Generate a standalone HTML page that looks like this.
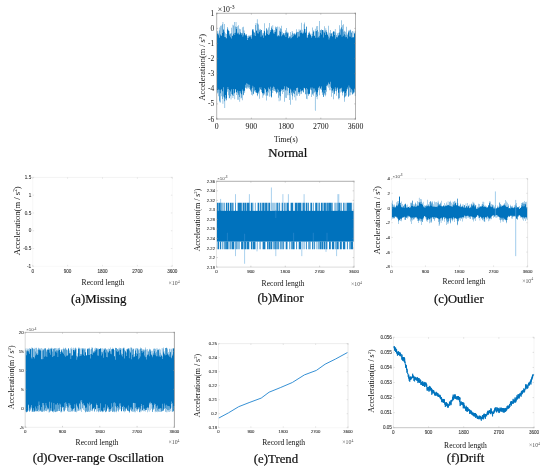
<!DOCTYPE html>
<html><head><meta charset="utf-8"><title>Figure</title>
<style>html,body{margin:0;padding:0;background:#fff}svg{display:block}text{white-space:pre}</style></head>
<body><svg width="550" height="470" viewBox="0 0 550 470">
<rect width="550" height="470" fill="#fff"/>
<path d="M217 34.04V34.04H217.38V30.97H217.77V32.84H218.15V35.33H218.54V33.69H218.92V30.48H219.31V37.81H219.69V27.48H220.07V25.75H220.46V34.42H220.84V35.69H221.23V35.81H221.61V25.59H221.99V24.32H222.38V33.02H222.76V21.91H223.15V29.15H223.53V29.79H223.91V31.78H224.3V24.12H224.68V36.93H225.07V37.08H225.45V33.19H225.84V38.3H226.22V38.18H226.6V34.01H226.99V29.44H227.37V27.08H227.76V28.46H228.14V30.03H228.53V31.04H228.91V31.02H229.29V35.52H229.68V33.63H230.06V33.78H230.45V37.18H230.83V33.03H231.21V38.57H231.6V27.68H231.98V35.44H232.37V36.09H232.75V24.8H233.13V34.37H233.52V25.53H233.9V32.92H234.29V22.09H234.67V34.93H235.06V26.4H235.44V32.63H235.82V22.07H236.21V28.95H236.59V27.03H236.98V26.17H237.36V32.76H237.75V33.92H238.13V32.83H238.51V25.29H238.9V34.85H239.28V28.67H239.67V34.27H240.05V32.34H240.43V29.3H240.82V33.26H241.2V33.1H241.59V34.73H241.97V27.31H242.36V33.37H242.74V36.66H243.12V26.7H243.51V35.36H243.89V30.53H244.28V33.3H244.66V32.89H245.04V35.02H245.43V34.35H245.81V36.05H246.2V34.75H246.58V33.88H246.97V36.26H247.35V39.98H247.73V38.1H248.12V35.85H248.5V37.75H248.89V35.36H249.27V36.15H249.65V36.64H250.04V34.89H250.42V36.3H250.81V37.25H251.19V34.79H251.57V38.68H251.96V30.32H252.34V29.08H252.73V29.5H253.11V31.42H253.5V29.19H253.88V35.58H254.26V32.93H254.65V31.92H255.03V35.95H255.42V24.9H255.8V23.06H256.19V30.37H256.57V30.88H256.95V19.21H257.34V33.31H257.72V23.39H258.11V24.59H258.49V33.45H258.87V28.86H259.26V31.75H259.64V29.96H260.03V30.62H260.41V28.96H260.8V36.86H261.18V30.11H261.56V29.98H261.95V35.84H262.33V34.87H262.72V32.66H263.1V37.78H263.48V33.14H263.87V30.81H264.25V23.37H264.64V31.16H265.02V35.07H265.41V35.98H265.79V32.8H266.17V28.24H266.56V28.48H266.94V30.53H267.33V33.96H267.71V29.62H268.09V35.05H268.48V27.51H268.86V34.86H269.25V23.12H269.63V33.41H270.01V31.92H270.4V29.94H270.78V30.32H271.17V26.16H271.55V27.77H271.94V29.13H272.32V29.41H272.7V25.3H273.09V30.3H273.47V32.71H273.86V33.94H274.24V30.06H274.62V32.24H275.01V26.48H275.39V31.85H275.78V27.86H276.16V27.04H276.55V29.05H276.93V35.64H277.31V26.6H277.7V36.52H278.08V34.88H278.47V35.79H278.85V26.83H279.24V30.82H279.62V36.23H280V27.95H280.39V31.85H280.77V29.03H281.16V25.8H281.54V36.17H281.92V31.82H282.31V35.18H282.69V34.29H283.08V33.31H283.46V33.06H283.85V34.87H284.23V35.57H284.61V33.21H285V32.79H285.38V30.13H285.77V36.98H286.15V28.02H286.53V32.35H286.92V32.72H287.3V33.54H287.69V31.63H288.07V38.26H288.46V32.78H288.84V37.98H289.22V35.96H289.61V37.01H289.99V36.42H290.38V32.06H290.76V38.58H291.14V34.85H291.53V37.66H291.91V30.99H292.3V32.65H292.68V37.08H293.06V33.88H293.45V35.67H293.83V32.95H294.22V34.6H294.6V33.61H294.99V35.13H295.37V34.17H295.75V33.51H296.14V32.58H296.52V29.29H296.91V31.9H297.29V37.67H297.68V31.7H298.06V36.6H298.44V32.03H298.83V29.19H299.21V30.79H299.6V36.55H299.98V29.69H300.36V30.47H300.75V33.02H301.13V32.41H301.52V22.72H301.9V29.69H302.29V33.75H302.67V32.68H303.05V33.37H303.44V31.43H303.82V24.37H304.21V22.53H304.59V28.9H304.97V29H305.36V32.96H305.74V31.79H306.13V26.42H306.51V26.69H306.89V37.57H307.28V37.69H307.66V35.25H308.05V34.67H308.43V32.82H308.82V32.52H309.2V31.59H309.58V33.53H309.97V35.35H310.35V34.57H310.74V33.53H311.12V36.25H311.5V37.64H311.89V33.73H312.27V27.58H312.66V36.16H313.04V30.31H313.43V31.82H313.81V31.15H314.19V35.82H314.58V35.87H314.96V28.84H315.35V37.74H315.73V31.32H316.12V26.15H316.5V30.9H316.88V37.74H317.27V30.04H317.65V25.99H318.04V36.72H318.42V31.7H318.8V37.78H319.19V21.12H319.57V35.64H319.96V33.11H320.34V30.2H320.73V29.88H321.11V29.22H321.49V34.48H321.88V30.36H322.26V30.08H322.65V29.92H323.03V37.55H323.41V30.28H323.8V31.83H324.18V26.27H324.57V32.84H324.95V30.41H325.34V34.88H325.72V28.33H326.1V30.35H326.49V32.09H326.87V32.42H327.26V34.72H327.64V34.54H328.02V25.83H328.41V36.57H328.79V39.59H329.18V32.87H329.56V37.71H329.94V36.19H330.33V30.09H330.71V33.55H331.1V33.75H331.48V33.03H331.87V35.89H332.25V32.41H332.63V36.65H333.02V31.16H333.4V31.76H333.79V31.08H334.17V35H334.56V31.79H334.94V29.04H335.32V38.65H335.71V32.4H336.09V35H336.48V37.16H336.86V36.73H337.24V33.34H337.63V37.41H338.01V35.44H338.4V32.63H338.78V35.27H339.17V32.46H339.55V25.13H339.93V29.38H340.32V34.7H340.7V28.56H341.09V20.36H341.47V27.16H341.85V36.82H342.24V29.24H342.62V25.26H343.01V35.74H343.39V24.3H343.78V31.82H344.16V34.22H344.54V30.79H344.93V37.14H345.31V31.66H345.7V35.31H346.08V26.85H346.46V36.97H346.85V33.58H347.23V38.5H347.62V34.83H348V32.52H348.38V31.24H348.77V29.95H349.15V36.51H349.54V30.74H349.92V29.39H350.31V30.17H350.69V36.85H351.07V33.09H351.46V31.68H351.84V37.99H352.23V37H352.61V30.92H353V37.16H353.38V37.25H353.76V31.47H354.15V33.04H354.53V33.78H354.92V31.27H355.3V96.03H354.92V88.67H354.53V92.42H354.15V91.74H353.76V93.71H353.38V92.95H353V94.21H352.61V94.59H352.23V90.33H351.84V89.05H351.46V92.56H351.07V95.19H350.69V92.34H350.31V87.86H349.92V87.52H349.54V95.51H349.15V85.43H348.77V96.95H348.38V96.29H348V89.58H347.62V87.47H347.23V88.97H346.85V95.53H346.46V91.24H346.08V96.57H345.7V96.53H345.31V92.89H344.93V101.66H344.54V97.57H344.16V90.92H343.78V92.19H343.39V91.53H343.01V93H342.62V95.41H342.24V91.52H341.85V87.83H341.47V91.87H341.09V88.38H340.7V88.56H340.32V92.58H339.93V98.11H339.55V88.78H339.17V99.58H338.78V92.74H338.4V98.5H338.01V89.7H337.63V87.47H337.24V88.24H336.86V91.24H336.48V95.77H336.09V88.65H335.71V90.97H335.32V87.33H334.94V94.31H334.56V93.78H334.17V91.55H333.79V99.34H333.4V88.68H333.02V90.37H332.63V93H332.25V91.27H331.87V88.01H331.48V96.63H331.1V90.32H330.71V81.84H330.33V86.85H329.94V84.31H329.56V90.3H329.18V83.72H328.79V87.69H328.41V82.61H328.02V85.14H327.64V86.52H327.26V84.44H326.87V85.95H326.49V91.71H326.1V94.78H325.72V89.88H325.34V96.21H324.95V94.64H324.57V93.29H324.18V90.07H323.8V97.08H323.41V96.78H323.03V94.89H322.65V91.77H322.26V93.18H321.88V86.49H321.49V90.07H321.11V88.48H320.73V88.52H320.34V89.51H319.96V86.19H319.57V95.29H319.19V87.52H318.8V90.32H318.42V87.64H318.04V92.33H317.65V96.16H317.27V99.28H316.88V97.01H316.5V94.59H316.12V92.02H315.73V90.41H315.35V110.7H314.96V88.55H314.58V92.3H314.19V93.35H313.81V95.71H313.43V88.44H313.04V93.86H312.66V94.8H312.27V87.56H311.89V90.22H311.5V97.09H311.12V87.62H310.74V89.7H310.35V88.85H309.97V93.66H309.58V94.19H309.2V93.73H308.82V94.44H308.43V96.06H308.05V93.87H307.66V89.21H307.28V99.36H306.89V98.83H306.51V87.98H306.13V94.3H305.74V94.35H305.36V89.38H304.97V88.06H304.59V88.62H304.21V87.69H303.82V92.6H303.44V92.28H303.05V90.14H302.67V90.42H302.29V91.42H301.9V93.63H301.52V90.64H301.13V94.31H300.75V91.49H300.36V89.23H299.98V92.2H299.6V95.95H299.21V93.45H298.83V91.97H298.44V93.69H298.06V87.56H297.68V95.68H297.29V88.08H296.91V95.52H296.52V87.9H296.14V100.39H295.75V91.31H295.37V90.49H294.99V93.88H294.6V97.26H294.22V89.64H293.83V93.61H293.45V92.68H293.06V96.16H292.68V99.63H292.3V91.56H291.91V94.69H291.53V92.66H291.14V89.82H290.76V88.74H290.38V104.75H289.99V100.05H289.61V92.94H289.22V95.28H288.84V87.72H288.46V88.09H288.07V95.29H287.69V87.13H287.3V90.66H286.92V98.06H286.53V86.39H286.15V89.65H285.77V97.69H285.38V90.41H285V101.81H284.61V86.15H284.23V88.7H283.85V91.88H283.46V88.93H283.08V89.84H282.69V93.99H282.31V89.85H281.92V90.76H281.54V88.9H281.16V91.44H280.77V96.26H280.39V100.41H280V95.48H279.62V91.75H279.24V101.19H278.85V89.72H278.47V97.78H278.08V92.77H277.7V92.12H277.31V88.63H276.93V93.64H276.55V92.8H276.16V91.69H275.78V89.58H275.39V91.45H275.01V91.08H274.62V88.7H274.24V87.08H273.86V86.58H273.47V90.87H273.09V93.1H272.7V90.04H272.32V87.63H271.94V97.13H271.55V97.43H271.17V96.15H270.78V86.75H270.4V90.83H270.01V96.75H269.63V89.15H269.25V88.74H268.86V92.46H268.48V87.42H268.09V96.1H267.71V91.2H267.33V95.18H266.94V100.49H266.56V92.28H266.17V95.74H265.79V89.67H265.41V88.94H265.02V93.38H264.64V88.08H264.25V94.81H263.87V93.2H263.48V95.5H263.1V97.82H262.72V93.3H262.33V93.28H261.95V92.09H261.56V90.1H261.18V87.36H260.8V89.14H260.41V89.47H260.03V98.71H259.64V87.38H259.26V90.75H258.87V92.15H258.49V93.67H258.11V93.01H257.72V96.26H257.34V95.15H256.95V92.78H256.57V93.06H256.19V91.8H255.8V90.02H255.42V92.45H255.03V90.6H254.65V91.47H254.26V87.33H253.88V93.76H253.5V94.16H253.11V85.71H252.73V95.53H252.34V87.66H251.96V94.71H251.57V91.72H251.19V88.69H250.81V90.02H250.42V91.18H250.04V84.68H249.65V88.97H249.27V87.33H248.89V84.42H248.5V88.24H248.12V86.64H247.73V83.66H247.35V88.59H246.97V83.21H246.58V88.82H246.2V87.83H245.81V84.78H245.43V87.69H245.04V93H244.66V91.34H244.28V90.46H243.89V94.84H243.51V95.21H243.12V91.09H242.74V89.58H242.36V100.23H241.97V97.78H241.59V94.13H241.2V98.5H240.82V91.35H240.43V93.18H240.05V101.64H239.67V97.08H239.28V91H238.9V94.86H238.51V99.68H238.13V92.72H237.75V90.45H237.36V99.87H236.98V92.35H236.59V94.95H236.21V92.28H235.82V89.48H235.44V89.08H235.06V99.26H234.67V92.73H234.29V93.48H233.9V96.06H233.52V88.88H233.13V97.95H232.75V95.56H232.37V94.4H231.98V94H231.6V89.17H231.21V99.48H230.83V96.23H230.45V91.39H230.06V90.04H229.68V98.03H229.29V98.39H228.91V95.35H228.53V88.93H228.14V86.97H227.76V89.13H227.37V91.64H226.99V98.15H226.6V100.15H226.22V100.53H225.84V98.71H225.45V95.08H225.07V107.88H224.68V101.18H224.3V97.6H223.91V87.22H223.53V96.62H223.15V103.65H222.76V99.06H222.38V91.13H221.99V96.29H221.61V88.89H221.23V89.92H220.84V102.53H220.46V93.26H220.07V102.25H219.69V100.84H219.31V89.65H218.92V89.41H218.54V96.31H218.15V92.5H217.77V90.09H217.38V93.51H217z" fill="#0072bd" opacity="1"/>
<path d="M216.7 13.3L355.5 13.3" stroke="#808080" stroke-width="0.6" stroke-linecap="square" fill="none"/>
<path d="M355.5 13.3L355.5 119" stroke="#808080" stroke-width="0.6" stroke-linecap="square" fill="none"/>
<path d="M216.7 119L355.5 119" stroke="#808080" stroke-width="0.6" stroke-linecap="square" fill="none"/>
<path d="M216.7 13.3L216.7 119" stroke="#808080" stroke-width="0.6" stroke-linecap="square" fill="none"/>
<path d="M216.7 119v-1.4M216.7 13.3v1.4M251.4 119v-1.4M251.4 13.3v1.4M286.1 119v-1.4M286.1 13.3v1.4M320.8 119v-1.4M320.8 13.3v1.4M355.5 119v-1.4M355.5 13.3v1.4M216.7 13.3h1.4M355.5 13.3h-1.4M216.7 28.4h1.4M355.5 28.4h-1.4M216.7 43.5h1.4M355.5 43.5h-1.4M216.7 58.6h1.4M355.5 58.6h-1.4M216.7 73.7h1.4M355.5 73.7h-1.4M216.7 88.8h1.4M355.5 88.8h-1.4M216.7 103.9h1.4M355.5 103.9h-1.4M216.7 119h1.4M355.5 119h-1.4" stroke="#808080" stroke-width="0.4" fill="none"/>
<text x="216.7" y="129" font-size="7.8" text-anchor="middle" font-family='"Liberation Serif",serif' fill="#111">0</text>
<text x="251.4" y="129" font-size="7.8" text-anchor="middle" font-family='"Liberation Serif",serif' fill="#111">900</text>
<text x="286.1" y="129" font-size="7.8" text-anchor="middle" font-family='"Liberation Serif",serif' fill="#111">1800</text>
<text x="320.8" y="129" font-size="7.8" text-anchor="middle" font-family='"Liberation Serif",serif' fill="#111">2700</text>
<text x="355.5" y="129" font-size="7.8" text-anchor="middle" font-family='"Liberation Serif",serif' fill="#111">3600</text>
<text x="214.1" y="15.8" font-size="7.4" text-anchor="end" font-family='"Liberation Serif",serif' fill="#111">1</text>
<text x="214.1" y="30.9" font-size="7.4" text-anchor="end" font-family='"Liberation Serif",serif' fill="#111">0</text>
<text x="214.1" y="46" font-size="7.4" text-anchor="end" font-family='"Liberation Serif",serif' fill="#111">-1</text>
<text x="214.1" y="61.1" font-size="7.4" text-anchor="end" font-family='"Liberation Serif",serif' fill="#111">-2</text>
<text x="214.1" y="76.2" font-size="7.4" text-anchor="end" font-family='"Liberation Serif",serif' fill="#111">-3</text>
<text x="214.1" y="91.3" font-size="7.4" text-anchor="end" font-family='"Liberation Serif",serif' fill="#111">-4</text>
<text x="214.1" y="106.4" font-size="7.4" text-anchor="end" font-family='"Liberation Serif",serif' fill="#111">-5</text>
<text x="214.1" y="121.5" font-size="7.4" text-anchor="end" font-family='"Liberation Serif",serif' fill="#111">-6</text>
<text x="217.8" y="11.8" font-size="7.8" font-family='"Liberation Serif",serif' fill="#111">×10<tspan dy="-3" font-size="5.6">-3</tspan></text>
<text x="286" y="141.5" font-size="7.6" text-anchor="middle" font-family='"Liberation Serif",serif' fill="#111">Time(s)</text>
<text x="287.8" y="157" font-size="12.8" text-anchor="middle" font-family='"Liberation Serif",serif' fill="#111" stroke="#111" stroke-width="0.22">Normal</text>
<text x="205.2" y="67.2" font-size="8.3" text-anchor="middle" font-family='"Liberation Serif",serif' fill="#111" transform="rotate(-90 205.2 67.2)">Acceleration(m / s<tspan dy="-3" font-size="5.0">2</tspan><tspan dy="3">)</tspan></text>
<path d="M32.7 177.4L172.3 177.4" stroke="#e6e6e6" stroke-width="0.5" stroke-linecap="square" fill="none"/>
<path d="M172.3 177.4L172.3 266.3" stroke="#f0f0f0" stroke-width="0.5" stroke-linecap="square" fill="none"/>
<path d="M32.7 266.3L172.3 266.3" stroke="#f2f2f2" stroke-width="0.5" stroke-linecap="square" fill="none"/>
<path d="M32.7 177.4L32.7 266.3" stroke="#f0f0f0" stroke-width="0.5" stroke-linecap="square" fill="none"/>
<path d="M32.7 266.3v-1.4M32.7 177.4v1.4M67.6 266.3v-1.4M67.6 177.4v1.4M102.5 266.3v-1.4M102.5 177.4v1.4M137.4 266.3v-1.4M137.4 177.4v1.4M172.3 266.3v-1.4M172.3 177.4v1.4M32.7 177.4h1.4M172.3 177.4h-1.4M32.7 195.18h1.4M172.3 195.18h-1.4M32.7 212.96h1.4M172.3 212.96h-1.4M32.7 230.74h1.4M172.3 230.74h-1.4M32.7 248.52h1.4M172.3 248.52h-1.4M32.7 266.3h1.4M172.3 266.3h-1.4" stroke="#c4c4c4" stroke-width="0.4" fill="none"/>
<text x="32.7" y="272.6" font-size="4.6" text-anchor="middle" font-family='"Liberation Sans",sans-serif' fill="#444" stroke="#444" stroke-width="0.12">0</text>
<text x="67.6" y="272.6" font-size="4.6" text-anchor="middle" font-family='"Liberation Sans",sans-serif' fill="#444" stroke="#444" stroke-width="0.12">900</text>
<text x="102.5" y="272.6" font-size="4.6" text-anchor="middle" font-family='"Liberation Sans",sans-serif' fill="#444" stroke="#444" stroke-width="0.12">1800</text>
<text x="137.4" y="272.6" font-size="4.6" text-anchor="middle" font-family='"Liberation Sans",sans-serif' fill="#444" stroke="#444" stroke-width="0.12">2700</text>
<text x="172.3" y="272.6" font-size="4.6" text-anchor="middle" font-family='"Liberation Sans",sans-serif' fill="#444" stroke="#444" stroke-width="0.12">3600</text>
<text x="31.2" y="179" font-size="4.6" text-anchor="end" font-family='"Liberation Sans",sans-serif' fill="#444" stroke="#444" stroke-width="0.12">1.5</text>
<text x="31.2" y="196.78" font-size="4.6" text-anchor="end" font-family='"Liberation Sans",sans-serif' fill="#444" stroke="#444" stroke-width="0.12">1</text>
<text x="31.2" y="214.56" font-size="4.6" text-anchor="end" font-family='"Liberation Sans",sans-serif' fill="#444" stroke="#444" stroke-width="0.12">0.5</text>
<text x="31.2" y="232.34" font-size="4.6" text-anchor="end" font-family='"Liberation Sans",sans-serif' fill="#444" stroke="#444" stroke-width="0.12">0</text>
<text x="31.2" y="250.12" font-size="4.6" text-anchor="end" font-family='"Liberation Sans",sans-serif' fill="#444" stroke="#444" stroke-width="0.12">-0.5</text>
<text x="31.2" y="267.9" font-size="4.6" text-anchor="end" font-family='"Liberation Sans",sans-serif' fill="#444" stroke="#444" stroke-width="0.12">-1</text>
<text x="103" y="284.6" font-size="7.6" text-anchor="middle" font-family='"Liberation Serif",serif' fill="#111">Record length</text>
<text x="168.6" y="285.2" font-size="5.8" font-family='"Liberation Serif",serif' fill="#555">×10<tspan dy="-2.3" font-size="3.8">4</tspan></text>
<text x="98.7" y="302.8" font-size="12.8" text-anchor="middle" font-family='"Liberation Serif",serif' fill="#111" stroke="#111" stroke-width="0.22">(a)Missing</text>
<text x="19.6" y="220.8" font-size="8.6" text-anchor="middle" font-family='"Liberation Serif",serif' fill="#111" transform="rotate(-90 19.6 220.8)">Acceleration(m / s<tspan dy="-3" font-size="5.2">2</tspan><tspan dy="3">)</tspan></text>
<rect x="216.8" y="210.85" width="137" height="30.75" fill="#0072bd"/>
<path d="M216.9 202.8h1.3V211.05h-1.3zM218.5 202.8h2.4V211.05h-2.4zM221.4 202.8h0.9V211.05h-0.9zM222.8 202.8h0.6V211.05h-0.6zM224.2 202.8h0.6V211.05h-0.6zM225.9 202.8h1.3V211.05h-1.3zM227.7 202.8h1.3V211.05h-1.3zM229.8 202.8h0.6V211.05h-0.6zM230.4 202.8h1.3V211.05h-1.3zM232.2 202.8h0.4V211.05h-0.4zM232.6 202.8h0.9V211.05h-0.9zM235.1 202.8h0.9V211.05h-0.9zM237.6 202.8h2.4V211.05h-2.4zM240 202.8h1.8V211.05h-1.8zM242.6 202.8h1.8V211.05h-1.8zM244.7 202.8h1.8V211.05h-1.8zM247 202.8h1.8V211.05h-1.8zM248.8 202.8h0.9V211.05h-0.9zM250.8 202.8h1.8V211.05h-1.8zM252.9 202.8h0.4V211.05h-0.4zM254.9 202.8h0.6V211.05h-0.6zM257.1 202.8h0.4V211.05h-0.4zM258 202.8h1.3V211.05h-1.3zM260.1 202.8h1.3V211.05h-1.3zM262.2 202.8h2.4V211.05h-2.4zM265.1 202.8h2.4V211.05h-2.4zM268.3 202.8h1.8V211.05h-1.8zM270.9 202.8h0.4V211.05h-0.4zM272.4 202.8h0.4V211.05h-0.4zM273.3 202.8h0.4V211.05h-0.4zM274.2 202.8h0.4V211.05h-0.4zM275.7 202.8h0.9V211.05h-0.9zM277.1 202.8h1.3V211.05h-1.3zM279.2 202.8h0.9V211.05h-0.9zM281.7 202.8h1.3V211.05h-1.3zM283.8 202.8h0.9V211.05h-0.9zM285.5 202.8h0.6V211.05h-0.6zM286.6 202.8h2.4V211.05h-2.4zM290.6 202.8h0.6V211.05h-0.6zM291.2 202.8h1.8V211.05h-1.8zM293.8 202.8h0.4V211.05h-0.4zM295 202.8h2.4V211.05h-2.4zM297.7 202.8h0.9V211.05h-0.9zM298.6 202.8h2.4V211.05h-2.4zM301 202.8h0.4V211.05h-0.4zM302.5 202.8h2.4V211.05h-2.4zM305.7 202.8h1.3V211.05h-1.3zM307.5 202.8h1.3V211.05h-1.3zM310.4 202.8h1.8V211.05h-1.8zM313 202.8h0.6V211.05h-0.6zM315.2 202.8h1.3V211.05h-1.3zM316.5 202.8h0.6V211.05h-0.6zM317.6 202.8h0.4V211.05h-0.4zM318.5 202.8h1.3V211.05h-1.3zM320.9 202.8h1.8V211.05h-1.8zM323.5 202.8h0.6V211.05h-0.6zM324.1 202.8h1.8V211.05h-1.8zM326.4 202.8h0.9V211.05h-0.9zM327.3 202.8h0.6V211.05h-0.6zM328.2 202.8h1.8V211.05h-1.8zM330 202.8h1.8V211.05h-1.8zM332.3 202.8h0.6V211.05h-0.6zM334 202.8h0.4V211.05h-0.4zM335.5 202.8h0.9V211.05h-0.9zM337.2 202.8h0.6V211.05h-0.6zM338.1 202.8h2.4V211.05h-2.4zM341 202.8h0.6V211.05h-0.6zM343.2 202.8h0.9V211.05h-0.9zM344.4 202.8h0.4V211.05h-0.4zM345.6 202.8h0.9V211.05h-0.9zM347 202.8h2.4V211.05h-2.4zM349.4 202.8h2.4V211.05h-2.4zM352.9 202.8h0.4V211.05h-0.4zM216.9 241.4h0.4V249.23h-0.4zM217.8 241.4h1.3V249.23h-1.3zM219.9 241.4h1.3V249.23h-1.3zM222 241.4h0.6V249.23h-0.6zM223.7 241.4h0.9V249.23h-0.9zM224.9 241.4h0.9V249.23h-0.9zM226.1 241.4h2.4V249.23h-2.4zM229.6 241.4h0.9V249.23h-0.9zM230.8 241.4h0.6V249.23h-0.6zM231.9 241.4h2.4V249.23h-2.4zM235.4 241.4h1.3V249.23h-1.3zM237.5 241.4h0.6V249.23h-0.6zM238.6 241.4h0.9V249.23h-0.9zM241.1 241.4h2.4V249.23h-2.4zM244 241.4h2.4V249.23h-2.4zM246.9 241.4h2.4V249.23h-2.4zM250.9 241.4h1.3V249.23h-1.3zM252.7 241.4h2.4V249.23h-2.4zM255.6 241.4h0.4V249.23h-0.4zM257.6 241.4h0.4V249.23h-0.4zM259.6 241.4h0.9V249.23h-0.9zM262.1 241.4h0.4V249.23h-0.4zM263 241.4h2.4V249.23h-2.4zM267 241.4h0.9V249.23h-0.9zM268.4 241.4h1.8V249.23h-1.8zM270.5 241.4h1.8V249.23h-1.8zM273.1 241.4h0.4V249.23h-0.4zM273.8 241.4h0.6V249.23h-0.6zM274.7 241.4h1.8V249.23h-1.8zM276.8 241.4h0.9V249.23h-0.9zM278.2 241.4h0.4V249.23h-0.4zM278.6 241.4h0.6V249.23h-0.6zM280.3 241.4h1.3V249.23h-1.3zM282.1 241.4h0.6V249.23h-0.6zM283.2 241.4h0.9V249.23h-0.9zM285.7 241.4h1.8V249.23h-1.8zM289.1 241.4h0.6V249.23h-0.6zM290.8 241.4h0.9V249.23h-0.9zM292.2 241.4h2.4V249.23h-2.4zM296.2 241.4h0.9V249.23h-0.9zM298.7 241.4h2.4V249.23h-2.4zM302.7 241.4h0.6V249.23h-0.6zM304.4 241.4h0.4V249.23h-0.4zM305.9 241.4h0.9V249.23h-0.9zM308.4 241.4h0.9V249.23h-0.9zM309.6 241.4h0.9V249.23h-0.9zM312.1 241.4h1.3V249.23h-1.3zM314.2 241.4h0.9V249.23h-0.9zM316.2 241.4h0.4V249.23h-0.4zM317.7 241.4h0.9V249.23h-0.9zM319.4 241.4h1.8V249.23h-1.8zM321.5 241.4h1.8V249.23h-1.8zM323.8 241.4h1.3V249.23h-1.3zM325.6 241.4h1.8V249.23h-1.8zM329 241.4h1.8V249.23h-1.8zM331.9 241.4h2.4V249.23h-2.4zM335.4 241.4h1.3V249.23h-1.3zM337 241.4h1.3V249.23h-1.3zM338.6 241.4h0.6V249.23h-0.6zM340 241.4h1.8V249.23h-1.8zM342.9 241.4h2.4V249.23h-2.4zM346.9 241.4h0.9V249.23h-0.9zM349.4 241.4h0.9V249.23h-0.9zM350.6 241.4h2.4V249.23h-2.4z" fill="#0072bd" opacity="0.92"/>
<path d="M235.5 209.9V194.17M249.4 209.9V194.17M271.4 209.9V187.5M282.9 209.9V194.17M288.4 209.9V194.17M304.1 209.9V194.17M337.9 209.9V194.17M338.8 209.9V194.17M220.6 209.9V198.94M235.5 242.31V256.14M244.6 242.31V263.76M275.8 242.31V256.14M301.8 242.31V256.14M336.6 242.31V256.14M257 242.31V251.37M326 242.31V251.85" stroke="#63abdf" stroke-width="0.55" fill="none"/>
<path d="M275.8 209.9V218M227.4 232.78V240.88M293.6 232.78V240.88M313.3 232.78V240.88M327 232.78V240.88M244.6 233.73V240.88" stroke="#3f93d2" stroke-width="0.5" fill="none"/>
<path d="M216.5 181.3L354 181.3" stroke="#9a9a9a" stroke-width="0.8" stroke-linecap="square" fill="none"/>
<path d="M354 181.3L354 267.1" stroke="#c8c8c8" stroke-width="0.6" stroke-linecap="square" fill="none"/>
<path d="M216.5 267.1L354 267.1" stroke="#c4c4c4" stroke-width="0.6" stroke-linecap="square" fill="none"/>
<path d="M216.5 181.3L216.5 267.1" stroke="#d6d6d6" stroke-width="0.6" stroke-linecap="square" fill="none"/>
<path d="M216.5 267.1v-1.4M216.5 181.3v1.4M250.88 267.1v-1.4M250.88 181.3v1.4M285.25 267.1v-1.4M285.25 181.3v1.4M319.62 267.1v-1.4M319.62 181.3v1.4M354 267.1v-1.4M354 181.3v1.4M216.5 181.3h1.4M354 181.3h-1.4M216.5 190.83h1.4M354 190.83h-1.4M216.5 200.37h1.4M354 200.37h-1.4M216.5 209.9h1.4M354 209.9h-1.4M216.5 219.43h1.4M354 219.43h-1.4M216.5 228.97h1.4M354 228.97h-1.4M216.5 238.5h1.4M354 238.5h-1.4M216.5 248.03h1.4M354 248.03h-1.4M216.5 257.57h1.4M354 257.57h-1.4M216.5 267.1h1.4M354 267.1h-1.4" stroke="#999" stroke-width="0.4" fill="none"/>
<text x="216.5" y="273.4" font-size="4.4" text-anchor="middle" font-family='"Liberation Sans",sans-serif' fill="#444" stroke="#444" stroke-width="0.12">0</text>
<text x="250.88" y="273.4" font-size="4.4" text-anchor="middle" font-family='"Liberation Sans",sans-serif' fill="#444" stroke="#444" stroke-width="0.12">900</text>
<text x="285.25" y="273.4" font-size="4.4" text-anchor="middle" font-family='"Liberation Sans",sans-serif' fill="#444" stroke="#444" stroke-width="0.12">1800</text>
<text x="319.62" y="273.4" font-size="4.4" text-anchor="middle" font-family='"Liberation Sans",sans-serif' fill="#444" stroke="#444" stroke-width="0.12">2700</text>
<text x="354" y="273.4" font-size="4.4" text-anchor="middle" font-family='"Liberation Sans",sans-serif' fill="#444" stroke="#444" stroke-width="0.12">3600</text>
<text x="215" y="182.8" font-size="4.2" text-anchor="end" font-family='"Liberation Sans",sans-serif' fill="#444" stroke="#444" stroke-width="0.12">2.36</text>
<text x="215" y="192.33" font-size="4.2" text-anchor="end" font-family='"Liberation Sans",sans-serif' fill="#444" stroke="#444" stroke-width="0.12">2.34</text>
<text x="215" y="201.87" font-size="4.2" text-anchor="end" font-family='"Liberation Sans",sans-serif' fill="#444" stroke="#444" stroke-width="0.12">2.32</text>
<text x="215" y="211.4" font-size="4.2" text-anchor="end" font-family='"Liberation Sans",sans-serif' fill="#444" stroke="#444" stroke-width="0.12">2.3</text>
<text x="215" y="220.93" font-size="4.2" text-anchor="end" font-family='"Liberation Sans",sans-serif' fill="#444" stroke="#444" stroke-width="0.12">2.28</text>
<text x="215" y="230.47" font-size="4.2" text-anchor="end" font-family='"Liberation Sans",sans-serif' fill="#444" stroke="#444" stroke-width="0.12">2.26</text>
<text x="215" y="240" font-size="4.2" text-anchor="end" font-family='"Liberation Sans",sans-serif' fill="#444" stroke="#444" stroke-width="0.12">2.24</text>
<text x="215" y="249.53" font-size="4.2" text-anchor="end" font-family='"Liberation Sans",sans-serif' fill="#444" stroke="#444" stroke-width="0.12">2.22</text>
<text x="215" y="259.07" font-size="4.2" text-anchor="end" font-family='"Liberation Sans",sans-serif' fill="#444" stroke="#444" stroke-width="0.12">2.2</text>
<text x="215" y="268.6" font-size="4.2" text-anchor="end" font-family='"Liberation Sans",sans-serif' fill="#444" stroke="#444" stroke-width="0.12">2.18</text>
<text x="217.2" y="180" font-size="4.4" font-family='"Liberation Sans",sans-serif' fill="#444">×10<tspan dy="-1.6" font-size="3">-3</tspan></text>
<text x="283" y="286" font-size="7.6" text-anchor="middle" font-family='"Liberation Serif",serif' fill="#111">Record length</text>
<text x="351" y="285.9" font-size="5.8" font-family='"Liberation Serif",serif' fill="#555">×10<tspan dy="-2.3" font-size="3.8">4</tspan></text>
<text x="280.5" y="302.1" font-size="12.6" text-anchor="middle" font-family='"Liberation Serif",serif' fill="#111" stroke="#111" stroke-width="0.22">(b)Minor</text>
<text x="199.5" y="220" font-size="7.8" text-anchor="middle" font-family='"Liberation Serif",serif' fill="#111" transform="rotate(-90 199.5 220)">Acceleration(m / s<tspan dy="-3" font-size="4.7">2</tspan><tspan dy="3">)</tspan></text>
<path d="M391.7 202.66V202.66H392.03V200.51H392.36V204.34H392.7V207.01H393.03V207.26H393.36V206.4H393.69V204.73H394.03V204.39H394.36V207.44H394.69V206.62H395.02V206.39H395.36V207.48H395.69V207.34H396.02V205.6H396.35V205.47H396.69V202.23H397.02V206.24H397.35V201.14H397.68V205.26H398.01V203.24H398.35V201.12H398.68V204.61H399.01V196.61H399.34V196.33H399.68V197.01H400.01V205.27H400.34V202.65H400.67V203.02H401.01V201.61H401.34V206.72H401.67V207.3H402V204H402.34V207.13H402.67V207.49H403V207.5H403.33V205.42H403.66V206.12H404V204.76H404.33V204.36H404.66V207.73H404.99V203.52H405.33V204.13H405.66V203.8H405.99V205.24H406.32V207.39H406.66V207.86H406.99V204.59H407.32V207.61H407.65V207.5H407.99V206.66H408.32V206.89H408.65V207.05H408.98V207.56H409.31V208.02H409.65V206.14H409.98V207.41H410.31V207.36H410.64V202.76H410.98V202.62H411.31V203.15H411.64V205.87H411.97V206.05H412.31V200.53H412.64V200.63H412.97V206.12H413.3V204.35H413.64V206.94H413.97V206.24H414.3V204.52H414.63V206.5H414.96V203.53H415.3V202.43H415.63V207H415.96V204.35H416.29V206.22H416.63V206.82H416.96V206.1H417.29V205.13H417.62V201.07H417.96V202.09H418.29V205.87H418.62V205.61H418.95V197.79H419.29V202.69H419.62V202.05H419.95V203.93H420.28V199.1H420.61V202.13H420.95V201.64H421.28V204H421.61V199.13H421.94V204.29H422.28V205.06H422.61V203.14H422.94V201.65H423.27V206.28H423.61V206.84H423.94V207.76H424.27V206.84H424.6V205.35H424.94V207.69H425.27V205.95H425.6V205.52H425.93V206.79H426.26V204.78H426.6V205.76H426.93V205.86H427.26V199.63H427.59V206.21H427.93V205.55H428.26V203.9H428.59V205.41H428.92V206.53H429.26V201.88H429.59V206.28H429.92V205.62H430.25V201.62H430.59V200.98H430.92V201.68H431.25V205.79H431.58V203.52H431.91V202.55H432.25V206.62H432.58V201.18H432.91V206.76H433.24V204.2H433.58V206.45H433.91V206.51H434.24V206.66H434.57V201.51H434.91V206.82H435.24V202.14H435.57V206.92H435.9V206.54H436.24V206.98H436.57V201.97H436.9V207.23H437.23V202.73H437.56V206.23H437.9V200.74H438.23V202.52H438.56V205.54H438.89V203.88H439.23V205.32H439.56V204.35H439.89V205.74H440.22V202.59H440.56V203.6H440.89V205.7H441.22V206.35H441.55V200.85H441.89V206.53H442.22V206H442.55V206.7H442.88V205.85H443.21V205.81H443.55V205.12H443.88V206.25H444.21V206.55H444.54V203.11H444.88V206.21H445.21V205.85H445.54V204.83H445.87V205.76H446.21V202.51H446.54V205.93H446.87V205.14H447.2V204.68H447.54V205.52H447.87V201.15H448.2V205.24H448.53V204.95H448.86V204.72H449.2V201.66H449.53V206.01H449.86V201.91H450.19V200.66H450.53V206.08H450.86V206.42H451.19V202.8H451.52V206.13H451.86V206.48H452.19V206.78H452.52V204.57H452.85V201.6H453.19V202.24H453.52V204.84H453.85V205.78H454.18V201.32H454.51V204.19H454.85V200.85H455.18V203.27H455.51V202.85H455.84V202.46H456.18V205.59H456.51V205H456.84V205.24H457.17V198.87H457.51V198.38H457.84V203.24H458.17V205.89H458.5V206.15H458.84V205.16H459.17V205.68H459.5V206.55H459.83V206.83H460.16V204.51H460.5V203.45H460.83V207.13H461.16V206.72H461.49V206.85H461.83V205.87H462.16V205.66H462.49V206.83H462.82V204.11H463.16V207.19H463.49V207.61H463.82V205.51H464.15V205.19H464.49V204.99H464.82V208.1H465.15V207.97H465.48V207.09H465.81V203.6H466.15V206.07H466.48V205.94H466.81V207.22H467.14V203.07H467.48V207.79H467.81V206.62H468.14V206.13H468.47V205.42H468.81V205.59H469.14V207.89H469.47V208.21H469.8V204.2H470.14V206.77H470.47V207.59H470.8V207.69H471.13V204.29H471.46V203.58H471.8V205.44H472.13V206.36H472.46V204.71H472.79V201.7H473.13V205.22H473.46V203.55H473.79V202.6H474.12V203.74H474.46V205.79H474.79V207.33H475.12V205.5H475.45V205.15H475.79V204.85H476.12V208.85H476.45V209.08H476.78V207.76H477.11V206.82H477.45V209.11H477.78V207.48H478.11V208.25H478.44V203.8H478.78V207.27H479.11V207.54H479.44V203.93H479.77V206.69H480.11V206.09H480.44V206.9H480.77V206.25H481.1V206.69H481.44V206.29H481.77V204.5H482.1V206.06H482.43V203.94H482.76V201.82H483.1V204.85H483.43V206.92H483.76V201.63H484.09V206.85H484.43V206.49H484.76V205.83H485.09V205.51H485.42V207.1H485.76V206.92H486.09V206.22H486.42V207.29H486.75V208.05H487.09V207.51H487.42V207.2H487.75V207.12H488.08V205.2H488.41V205.29H488.75V205.44H489.08V202.75H489.41V201.14H489.74V203.31H490.08V205.72H490.41V201.44H490.74V207.02H491.07V203.91H491.41V206.81H491.74V207.27H492.07V205.04H492.4V206.41H492.74V204.33H493.07V205.24H493.4V208.47H493.73V207.61H494.06V206.42H494.4V208.75H494.73V207.64H495.06V204.96H495.39V208.49H495.73V208.64H496.06V208.34H496.39V208.18H496.72V208.3H497.06V207.77H497.39V205.41H497.72V207.01H498.05V206.42H498.39V207.81H498.72V207.68H499.05V202.82H499.38V206.72H499.71V202.2H500.05V206.41H500.38V204.47H500.71V204.06H501.04V206.54H501.38V206.4H501.71V204.98H502.04V206.06H502.37V205.54H502.71V205.85H503.04V205.41H503.37V204.62H503.7V205.35H504.04V205.21H504.37V204.31H504.7V202.88H505.03V206.23H505.36V199.88H505.7V205.36H506.03V201.41H506.36V206.83H506.69V206.96H507.03V207.1H507.36V202.87H507.69V206.72H508.02V204.31H508.36V205.79H508.69V208.22H509.02V207.93H509.35V208.26H509.69V207.88H510.02V206.33H510.35V208.48H510.68V204.84H511.01V207.37H511.35V207.67H511.68V206H512.01V207.77H512.34V205.87H512.68V207.42H513.01V207.22H513.34V208.11H513.67V208.13H514.01V205.17H514.34V206.97H514.67V207.55H515V205.54H515.34V204.29H515.67V207.86H516V203.06H516.33V207.75H516.66V205.72H517V207.22H517.33V207.52H517.66V206.96H517.99V206.76H518.33V207.81H518.66V206.93H518.99V205.98H519.32V209.03H519.66V208.94H519.99V207.62H520.32V208H520.65V207.94H520.99V206.9H521.32V205.37H521.65V203.12H521.98V202.24H522.31V203.29H522.65V206.34H522.98V202.35H523.31V203.85H523.64V206.6H523.98V201.09H524.31V206.23H524.64V203.74H524.97V203.83H525.31V201.98H525.64V204.44H525.97V201.66H526.3V207.24H526.64V207.38H526.97V207.31H527.3V220.08H526.97V217.58H526.64V219.29H526.3V217.57H525.97V220.97H525.64V217.19H525.31V217.33H524.97V218.42H524.64V218.8H524.31V217.53H523.98V220.78H523.64V217.81H523.31V216.66H522.98V218.22H522.65V217.05H522.31V219.48H521.98V217.09H521.65V217.74H521.32V216.66H520.99V216.57H520.65V217.82H520.32V215.73H519.99V215.48H519.66V215.25H519.32V215.33H518.99V215.52H518.66V215.82H518.33V217.06H517.99V216.4H517.66V219.05H517.33V220.05H517V218.65H516.66V218.26H516.33V219.1H516V216.25H515.67V217.1H515.34V215.65H515V215.86H514.67V216.84H514.34V215.89H514.01V215.67H513.67V216.28H513.34V216.67H513.01V218.68H512.68V215.86H512.34V217.04H512.01V216.02H511.68V215.49H511.35V218.49H511.01V215.55H510.68V215.97H510.35V215.63H510.02V216.35H509.69V216.69H509.35V217.12H509.02V215.84H508.69V216.49H508.36V216.57H508.02V217.04H507.69V217.72H507.36V219.98H507.03V223.33H506.69V220.02H506.36V222.29H506.03V220.47H505.7V219.9H505.36V219.45H505.03V218.82H504.7V219.13H504.37V219.72H504.04V217.79H503.7V221.63H503.37V219.64H503.04V217.81H502.71V221.62H502.37V219.45H502.04V219.63H501.71V219.41H501.38V217.74H501.04V222.74H500.71V217.79H500.38V220.29H500.05V217.48H499.71V216.9H499.38V219.71H499.05V216.41H498.72V216.41H498.39V216.84H498.05V216.3H497.72V217.18H497.39V215.23H497.06V215.1H496.72V217.84H496.39V215.11H496.06V215.31H495.73V215.3H495.39V215.94H495.06V215.68H494.73V216.9H494.4V216.5H494.06V215.1H493.73V217.66H493.4V215.37H493.07V215.74H492.74V215.43H492.4V215.63H492.07V216.67H491.74V216.34H491.41V219.36H491.07V218.88H490.74V217.39H490.41V218.18H490.08V220.49H489.74V219.04H489.41V218.2H489.08V218.26H488.75V217.62H488.41V221.23H488.08V216.9H487.75V218.69H487.42V216.11H487.09V216.91H486.75V219.4H486.42V217.8H486.09V217.79H485.76V217.25H485.42V217.12H485.09V221.97H484.76V218.65H484.43V221.45H484.09V221.15H483.76V218.55H483.43V217.06H483.1V219.65H482.76V217.87H482.43V220.16H482.1V218.64H481.77V217.74H481.44V218.47H481.1V217.08H480.77V216.86H480.44V216.86H480.11V220.53H479.77V217.75H479.44V217.93H479.11V216.38H478.78V215.85H478.44V218.31H478.11V215.36H477.78V215.24H477.45V215.37H477.11V216.69H476.78V216.47H476.45V217.08H476.12V216.93H475.79V217.97H475.45V221.01H475.12V218.28H474.79V217.53H474.46V218.66H474.12V219.42H473.79V221.54H473.46V217.04H473.13V218.5H472.79V219.73H472.46V216.63H472.13V217H471.8V216.41H471.46V216.36H471.13V217.34H470.8V219.07H470.47V216.07H470.14V219.11H469.8V217.3H469.47V216.58H469.14V217.86H468.81V216.56H468.47V215.76H468.14V217.89H467.81V215.87H467.48V215.82H467.14V216.38H466.81V218.76H466.48V215.88H466.15V215.83H465.81V218.44H465.48V216.14H465.15V217.59H464.82V215.58H464.49V215.68H464.15V217.99H463.82V217.09H463.49V218.49H463.16V217.02H462.82V217.29H462.49V221.47H462.16V217.52H461.83V218.81H461.49V218.56H461.16V217.31H460.83V220.66H460.5V217.71H460.16V218.07H459.83V217.73H459.5V219.48H459.17V218.16H458.84V221.4H458.5V220.73H458.17V218.71H457.84V225.13H457.51V224.46H457.17V220.65H456.84V218.84H456.51V218.99H456.18V218.21H455.84V218.31H455.51V218.28H455.18V217.85H454.85V218.32H454.51V222.08H454.18V219.06H453.85V217.85H453.52V217.03H453.19V219.65H452.85V221.35H452.52V218.66H452.19V220.37H451.86V217.63H451.52V219.34H451.19V217.93H450.86V222.49H450.53V223.44H450.19V218.15H449.86V218.56H449.53V218.27H449.2V220.68H448.86V221.55H448.53V223.57H448.2V218.61H447.87V223.7H447.54V221.94H447.2V218.94H446.87V224.95H446.54V220.45H446.21V217.92H445.87V218.43H445.54V218.33H445.21V217.27H444.88V221.84H444.54V218.97H444.21V217.04H443.88V217.31H443.55V217.26H443.21V218.01H442.88V220.91H442.55V219.62H442.22V219.51H441.89V217.44H441.55V218H441.22V222.99H440.89V218.2H440.56V218.49H440.22V221.37H439.89V224.47H439.56V219.3H439.23V225.99H438.89V222.1H438.56V219.1H438.23V218.24H437.9V218.61H437.56V217.96H437.23V218.33H436.9V217.16H436.57V218.01H436.24V217.71H435.9V217.7H435.57V218.62H435.24V217.26H434.91V221.08H434.57V217.07H434.24V219.5H433.91V218.82H433.58V217.2H433.24V218.94H432.91V217.19H432.58V217.3H432.25V217.42H431.91V222.87H431.58V221.54H431.25V217.87H430.92V217.79H430.59V222.56H430.25V218.99H429.92V219.47H429.59V223.19H429.26V218.96H428.92V218.07H428.59V219.17H428.26V220.06H427.93V221.83H427.59V220H427.26V219.33H426.93V219.57H426.6V221.36H426.26V217.24H425.93V217.1H425.6V216.62H425.27V218.41H424.94V216.02H424.6V216H424.27V216.58H423.94V217.39H423.61V219.41H423.27V218.35H422.94V221.67H422.61V221.88H422.28V219.2H421.94V225.06H421.61V219.23H421.28V221.1H420.95V218.87H420.61V221.47H420.28V218.71H419.95V220.15H419.62V218.57H419.29V220.71H418.95V222.96H418.62V221.11H418.29V219.45H417.96V218.89H417.62V221.04H417.29V218.07H416.96V218.56H416.63V217.24H416.29V217.24H415.96V217.57H415.63V217.4H415.3V217.17H414.96V217.38H414.63V219.18H414.3V217.66H413.97V219.44H413.64V217.24H413.3V219.15H412.97V217.62H412.64V220.46H412.31V218.1H411.97V224.08H411.64V219.62H411.31V217.48H410.98V217.22H410.64V221.53H410.31V217.82H409.98V216.66H409.65V215.88H409.31V217H408.98V215.66H408.65V216.16H408.32V217.52H407.99V217.3H407.65V215.85H407.32V218.67H406.99V217.88H406.66V216.8H406.32V217.88H405.99V220.07H405.66V219.74H405.33V217.2H404.99V216.81H404.66V216.83H404.33V219.76H404V216.94H403.66V217.48H403.33V217.39H403V217.11H402.67V218.05H402.34V218.03H402V219.51H401.67V218.62H401.34V221.14H401.01V218.54H400.67V219.06H400.34V221.06H400.01V219.77H399.68V220.11H399.34V220.45H399.01V219.51H398.68V221.29H398.35V223.9H398.01V218.18H397.68V219.07H397.35V217.49H397.02V217.63H396.69V217.33H396.35V216.86H396.02V216.42H395.69V216.6H395.36V216.91H395.02V218.05H394.69V218.55H394.36V216.52H394.03V218.44H393.69V217.04H393.36V218.31H393.03V217.19H392.7V217.36H392.36V218.77H392.03V220.16H391.7z" fill="#0072bd" opacity="1"/>
<path d="M495.4 191.46V217.56M515.7 199.91V256.14" stroke="#63abdf" stroke-width="0.6" fill="none"/>
<path d="M391.4 178.6L527.6 178.6" stroke="#f0f0f0" stroke-width="0.5" stroke-linecap="square" fill="none"/>
<path d="M527.6 178.6L527.6 266.8" stroke="#d0d0d0" stroke-width="0.5" stroke-linecap="square" fill="none"/>
<path d="M391.4 266.8L527.6 266.8" stroke="#f0f0f0" stroke-width="0.5" stroke-linecap="square" fill="none"/>
<path d="M391.4 178.6L391.4 266.8" stroke="#eeeeee" stroke-width="0.5" stroke-linecap="square" fill="none"/>
<path d="M391.4 266.8v-1.4M391.4 178.6v1.4M425.45 266.8v-1.4M425.45 178.6v1.4M459.5 266.8v-1.4M459.5 178.6v1.4M493.55 266.8v-1.4M493.55 178.6v1.4M527.6 266.8v-1.4M527.6 178.6v1.4M391.4 178.6h1.4M527.6 178.6h-1.4M391.4 193.3h1.4M527.6 193.3h-1.4M391.4 208h1.4M527.6 208h-1.4M391.4 222.7h1.4M527.6 222.7h-1.4M391.4 237.4h1.4M527.6 237.4h-1.4M391.4 252.1h1.4M527.6 252.1h-1.4M391.4 266.8h1.4M527.6 266.8h-1.4" stroke="#bbb" stroke-width="0.4" fill="none"/>
<text x="391.4" y="272.6" font-size="4.4" text-anchor="middle" font-family='"Liberation Sans",sans-serif' fill="#444" stroke="#444" stroke-width="0.12">0</text>
<text x="425.45" y="272.6" font-size="4.4" text-anchor="middle" font-family='"Liberation Sans",sans-serif' fill="#444" stroke="#444" stroke-width="0.12">900</text>
<text x="459.5" y="272.6" font-size="4.4" text-anchor="middle" font-family='"Liberation Sans",sans-serif' fill="#444" stroke="#444" stroke-width="0.12">1800</text>
<text x="493.55" y="272.6" font-size="4.4" text-anchor="middle" font-family='"Liberation Sans",sans-serif' fill="#444" stroke="#444" stroke-width="0.12">2700</text>
<text x="527.6" y="272.6" font-size="4.4" text-anchor="middle" font-family='"Liberation Sans",sans-serif' fill="#444" stroke="#444" stroke-width="0.12">3600</text>
<text x="389.9" y="180.1" font-size="4.4" text-anchor="end" font-family='"Liberation Sans",sans-serif' fill="#444" stroke="#444" stroke-width="0.12">4</text>
<text x="389.9" y="194.8" font-size="4.4" text-anchor="end" font-family='"Liberation Sans",sans-serif' fill="#444" stroke="#444" stroke-width="0.12">2</text>
<text x="389.9" y="209.5" font-size="4.4" text-anchor="end" font-family='"Liberation Sans",sans-serif' fill="#444" stroke="#444" stroke-width="0.12">0</text>
<text x="389.9" y="224.2" font-size="4.4" text-anchor="end" font-family='"Liberation Sans",sans-serif' fill="#444" stroke="#444" stroke-width="0.12">-2</text>
<text x="389.9" y="238.9" font-size="4.4" text-anchor="end" font-family='"Liberation Sans",sans-serif' fill="#444" stroke="#444" stroke-width="0.12">-4</text>
<text x="389.9" y="253.6" font-size="4.4" text-anchor="end" font-family='"Liberation Sans",sans-serif' fill="#444" stroke="#444" stroke-width="0.12">-6</text>
<text x="389.9" y="268.3" font-size="4.4" text-anchor="end" font-family='"Liberation Sans",sans-serif' fill="#444" stroke="#444" stroke-width="0.12">-8</text>
<text x="392.4" y="177.8" font-size="4.4" font-family='"Liberation Sans",sans-serif' fill="#444">×10<tspan dy="-1.6" font-size="3">-3</tspan></text>
<text x="464" y="283.5" font-size="7.6" text-anchor="middle" font-family='"Liberation Serif",serif' fill="#111">Record length</text>
<text x="522.2" y="282.7" font-size="5.8" font-family='"Liberation Serif",serif' fill="#555">×10<tspan dy="-2.3" font-size="3.8">4</tspan></text>
<text x="458.8" y="302.7" font-size="12.6" text-anchor="middle" font-family='"Liberation Serif",serif' fill="#111" stroke="#111" stroke-width="0.22">(c)Outlier</text>
<text x="379.9" y="220.2" font-size="8.5" text-anchor="middle" font-family='"Liberation Serif",serif' fill="#111" transform="rotate(-90 379.9 220.2)">Acceleration(m / s<tspan dy="-3" font-size="5.1">2</tspan><tspan dy="3">)</tspan></text>
<path d="M25.5 348.38V348.38H25.83V349.94H26.17V351.23H26.5V355.33H26.83V348.25H27.16V349.43H27.5V350.76H27.83V351.52H28.16V348.86H28.49V350.63H28.83V352.54H29.16V354.08H29.49V347.98H29.82V349.45H30.16V348.71H30.49V348.65H30.82V348.96H31.16V357.41H31.49V347.51H31.82V358.83H32.15V348H32.49V347.64H32.82V348.81H33.15V348.73H33.48V356.91H33.82V357.28H34.15V358.6H34.48V348.88H34.81V347.78H35.15V351.44H35.48V355.59H35.81V347.89H36.15V354.13H36.48V347.68H36.81V353.09H37.14V349.52H37.48V355.12H37.81V354.61H38.14V347.79H38.47V349.66H38.81V348.6H39.14V350.3H39.47V348.52H39.8V349.24H40.14V350.15H40.47V348.44H40.8V350.77H41.14V359.01H41.47V347.92H41.8V359.59H42.13V350.47H42.47V348.71H42.8V359.04H43.13V349.47H43.46V350.18H43.8V348.66H44.13V356.72H44.46V348.29H44.79V348.82H45.13V348.15H45.46V348.31H45.79V356.32H46.13V349.8H46.46V351.54H46.79V357.03H47.12V349.75H47.46V349.09H47.79V349.96H48.12V349.84H48.45V348.45H48.79V347.8H49.12V349.45H49.45V352.74H49.78V348.72H50.12V354.74H50.45V348.74H50.78V348.18H51.11V347.84H51.45V349.27H51.78V348.45H52.11V351.54H52.45V357.04H52.78V348.34H53.11V356.14H53.44V348.77H53.78V348.98H54.11V348.12H54.44V355.66H54.77V348.52H55.11V351.52H55.44V347.93H55.77V351.46H56.1V348.14H56.44V350.28H56.77V352.82H57.1V348.53H57.44V350.51H57.77V356.94H58.1V348.53H58.43V350.41H58.77V347.97H59.1V347.8H59.43V350.06H59.76V349.43H60.1V351.95H60.43V354H60.76V351.82H61.09V349.22H61.43V349.68H61.76V350.65H62.09V352.8H62.43V351.68H62.76V348.95H63.09V347.76H63.42V353.66H63.76V348.97H64.09V349.59H64.42V355.53H64.75V348.6H65.09V356.68H65.42V347.86H65.75V348.28H66.08V350.11H66.42V355.64H66.75V349.07H67.08V355.68H67.42V350.18H67.75V355.3H68.08V348.25H68.41V348.15H68.75V348.79H69.08V353.47H69.41V350.42H69.74V353.03H70.08V348.23H70.41V353.18H70.74V358.89H71.07V347.51H71.41V349.18H71.74V355.68H72.07V355.54H72.41V355.29H72.74V348.49H73.07V350.03H73.4V347.72H73.74V350.06H74.07V351.51H74.4V348.46H74.73V350.02H75.07V349.54H75.4V347.81H75.73V347.69H76.06V355.66H76.4V348.67H76.73V359.76H77.06V356.21H77.4V357.19H77.73V353.15H78.06V347.49H78.39V348.76H78.73V348.41H79.06V348.69H79.39V347.74H79.72V356.32H80.06V355.81H80.39V353.9H80.72V348.62H81.05V355.52H81.39V353.92H81.72V348.26H82.05V347.96H82.39V348.66H82.72V349.85H83.05V354.68H83.38V348.22H83.72V348.85H84.05V349.54H84.38V355.95H84.71V348.35H85.05V352.39H85.38V348.48H85.71V352.06H86.04V355.15H86.38V355.53H86.71V355.33H87.04V349.06H87.38V349.23H87.71V348.33H88.04V348.18H88.37V348.72H88.71V354.89H89.04V347.71H89.37V348.8H89.7V354.88H90.04V353.89H90.37V358.46H90.7V349.38H91.03V347.56H91.37V354.12H91.7V349.08H92.03V354.67H92.37V347.49H92.7V348.09H93.03V352.11H93.36V353.1H93.7V350.85H94.03V350.94H94.36V352.54H94.69V348.48H95.03V347.7H95.36V349.67H95.69V351.52H96.02V348.3H96.36V347.98H96.69V349.39H97.02V349.29H97.36V348.35H97.69V355.42H98.02V355.87H98.35V348.41H98.69V349.46H99.02V348.96H99.35V348.94H99.68V348.66H100.02V348.51H100.35V348.24H100.68V348.39H101.01V351.68H101.35V348.43H101.68V355.56H102.01V353.57H102.34V348.35H102.68V351.99H103.01V357.73H103.34V348.67H103.68V350.74H104.01V349.72H104.34V348.27H104.67V349.28H105.01V348.32H105.34V352.41H105.67V348.48H106V349.47H106.34V357.1H106.67V349.51H107V349.29H107.33V357.35H107.67V351.38H108V351.87H108.33V348.44H108.67V352.68H109V349.28H109.33V351.06H109.66V348.65H110V347.42H110.33V353.7H110.66V351.26H110.99V354.23H111.33V349.18H111.66V349.18H111.99V347.67H112.32V349.17H112.66V348.9H112.99V348.75H113.32V348.48H113.66V349.2H113.99V356.57H114.32V350.06H114.65V356.1H114.99V347.74H115.32V348.07H115.65V359.65H115.98V348.07H116.32V348.12H116.65V351.14H116.98V349.21H117.31V348.95H117.65V352.03H117.98V351.4H118.31V348.4H118.65V350.61H118.98V349.43H119.31V354.76H119.64V347.72H119.98V348.44H120.31V349.92H120.64V348.12H120.97V353.61H121.31V355.34H121.64V348.45H121.97V353.9H122.3V348.57H122.64V356.52H122.97V348.46H123.3V348.33H123.64V347.6H123.97V349.8H124.3V347.68H124.63V358.51H124.97V352.21H125.3V350.6H125.63V351.12H125.96V348.96H126.3V356.06H126.63V352.4H126.96V349.68H127.29V349.1H127.63V348.55H127.96V349.13H128.29V348.54H128.63V348.01H128.96V358.14H129.29V348.62H129.62V350.52H129.96V347.6H130.29V351.64H130.62V352.77H130.95V347.56H131.29V359.19H131.62V347.66H131.95V348.39H132.28V354.68H132.62V349.65H132.95V357.28H133.28V348.8H133.62V348.81H133.95V353.98H134.28V356.55H134.61V356.71H134.95V348.25H135.28V350.87H135.61V349.55H135.94V352.91H136.28V347.94H136.61V355.94H136.94V354.05H137.27V348.61H137.61V348.44H137.94V348.69H138.27V359.37H138.61V350.23H138.94V352.91H139.27V358.27H139.6V349.36H139.94V356.56H140.27V348.84H140.6V347.53H140.93V348.48H141.27V350.89H141.6V348.37H141.93V352.94H142.26V349.6H142.6V351.36H142.93V348.88H143.26V350.28H143.6V351.87H143.93V349.43H144.26V350.46H144.59V355.49H144.93V357.24H145.26V349.56H145.59V347.6H145.92V356.87H146.26V349.4H146.59V359.58H146.92V354.46H147.25V348.98H147.59V355.33H147.92V351.02H148.25V351.66H148.59V354.44H148.92V349.79H149.25V356.25H149.58V348.64H149.92V349.39H150.25V351.39H150.58V349.4H150.91V354.14H151.25V350.85H151.58V354.96H151.91V355.66H152.24V350.7H152.58V357.34H152.91V353.32H153.24V354.86H153.57V348.65H153.91V348.64H154.24V351.36H154.57V348.44H154.91V355.37H155.24V348.99H155.57V353.27H155.9V348.26H156.24V351.65H156.57V356.35H156.9V356.22H157.23V348.48H157.57V350.1H157.9V350.28H158.23V349.1H158.56V349.96H158.9V356.64H159.23V355.5H159.56V348.83H159.9V352.67H160.23V356.96H160.56V349.53H160.89V355.54H161.23V354.48H161.56V355.82H161.89V348.08H162.22V356.57H162.56V358.97H162.89V348.68H163.22V352.49H163.55V347.55H163.89V351.23H164.22V353.54H164.55V354.27H164.89V355.56H165.22V348.12H165.55V347.91H165.88V354.92H166.22V347.47H166.55V347.91H166.88V348.07H167.21V353.5H167.55V349.25H167.88V354.59H168.21V352.11H168.54V355.54H168.88V354.37H169.21V356.68H169.54V348.64H169.88V348.84H170.21V352.15H170.54V351.81H170.87V357.17H171.21V358.26H171.54V349.19H171.87V348.33H172.2V355.74H172.54V354.39H172.87V348.41H173.2V348.48H173.53V348.26H173.87V348.23H174.2V406.02H173.87V411.17H173.53V410.86H173.2V411.78H172.87V411.67H172.54V403.3H172.2V411.66H171.87V401.44H171.54V403.89H171.21V407.84H170.87V409.11H170.54V411.2H170.21V408.53H169.88V411.9H169.54V406.16H169.21V410H168.88V406.1H168.54V411.82H168.21V410.36H167.88V410.32H167.55V405.73H167.21V412.18H166.88V408.96H166.55V404.7H166.22V412.2H165.88V407.89H165.55V411.85H165.22V405.54H164.89V408.96H164.55V403.45H164.22V408.43H163.89V409.74H163.55V410.8H163.22V411.11H162.89V403.82H162.56V411.34H162.22V410.88H161.89V412.1H161.56V411.13H161.23V408.55H160.89V411.91H160.56V407.99H160.23V409.45H159.9V411.94H159.56V408.5H159.23V408.86H158.9V411.43H158.56V408.82H158.23V411.74H157.9V405.43H157.57V410.47H157.23V412.18H156.9V408.27H156.57V411.73H156.24V406.13H155.9V403.9H155.57V411.33H155.24V412.28H154.91V405.09H154.57V403.62H154.24V408.89H153.91V407.4H153.57V409.33H153.24V410.1H152.91V411.71H152.58V412.11H152.24V404.69H151.91V402.89H151.58V408.74H151.25V403.46H150.91V403.53H150.58V410.21H150.25V401.81H149.92V404.49H149.58V403.03H149.25V411.82H148.92V410.37H148.59V407.4H148.25V408.19H147.92V407.19H147.59V412.32H147.25V407.82H146.92V409.93H146.59V409.97H146.26V408.27H145.92V410.33H145.59V410.06H145.26V411.71H144.93V409.17H144.59V411.04H144.26V408.4H143.93V411.26H143.6V408.81H143.26V405.01H142.93V410H142.6V410.59H142.26V410.44H141.93V411.45H141.6V403.92H141.27V405.97H140.93V410.66H140.6V408.86H140.27V412.2H139.94V412.11H139.6V412.15H139.27V407.46H138.94V409.23H138.61V408.39H138.27V407.25H137.94V409.83H137.61V411.59H137.27V409.09H136.94V407.31H136.61V411H136.28V409.18H135.94V408.02H135.61V412.24H135.28V403.24H134.95V402.96H134.61V411.33H134.28V412.31H133.95V403.05H133.62V411.71H133.28V402.8H132.95V409.1H132.62V411.93H132.28V410.41H131.95V407.43H131.62V411.3H131.29V411.37H130.95V410.06H130.62V408.63H130.29V407.26H129.96V411.36H129.62V412.49H129.29V412.44H128.96V411.04H128.63V411.36H128.29V405.38H127.96V410.3H127.63V410.62H127.29V411.05H126.96V408.93H126.63V407.42H126.3V408.42H125.96V411.57H125.63V410.83H125.3V408.62H124.97V406.93H124.63V410.48H124.3V412.21H123.97V411.17H123.64V411.13H123.3V405.7H122.97V406.76H122.64V407.07H122.3V409.19H121.97V411.41H121.64V411.26H121.31V411.09H120.97V409.18H120.64V405.8H120.31V403.23H119.98V403.59H119.64V408.56H119.31V409.63H118.98V407.3H118.65V410.79H118.31V411.98H117.98V408.21H117.65V406.04H117.31V410.6H116.98V411.24H116.65V412.17H116.32V407.27H115.98V403.2H115.65V406.32H115.32V411.73H114.99V411.5H114.65V402.15H114.32V412.26H113.99V410.76H113.66V411.88H113.32V402.76H112.99V406.83H112.66V412.01H112.32V411.87H111.99V410.73H111.66V403.23H111.33V408.24H110.99V410.81H110.66V411.4H110.33V408.9H110V411.72H109.66V409.23H109.33V411.91H109V408.51H108.67V411.69H108.33V406.93H108V408.94H107.67V407.72H107.33V405.54H107V411.42H106.67V411.52H106.34V410.48H106V404.27H105.67V412.05H105.34V412.2H105.01V410.91H104.67V410.12H104.34V407.54H104.01V411.34H103.68V407.69H103.34V411.75H103.01V412.18H102.68V411.66H102.34V411.04H102.01V410.78H101.68V410.45H101.35V411.44H101.01V412.11H100.68V403.14H100.35V411.61H100.02V407.99H99.68V410.17H99.35V411.62H99.02V411.44H98.69V408.09H98.35V412.25H98.02V405.1H97.69V408.54H97.36V411.24H97.02V405.02H96.69V411.85H96.36V403.61H96.02V409.7H95.69V409H95.36V408.94H95.03V407.23H94.69V411.78H94.36V411.25H94.03V408.13H93.7V408.02H93.36V409.09H93.03V408.9H92.7V410.22H92.37V411.14H92.03V403.71H91.7V411.06H91.37V404.25H91.03V410.15H90.7V404.82H90.37V411.56H90.04V402.38H89.7V412.1H89.37V405.75H89.04V412.05H88.71V410.81H88.37V404.29H88.04V411.71H87.71V412.03H87.38V403.21H87.04V410.68H86.71V407.5H86.38V411.7H86.04V412.28H85.71V412.16H85.38V407.82H85.05V410.77H84.71V404.92H84.38V406.04H84.05V405.27H83.72V409.98H83.38V403.19H83.05V408.71H82.72V408.1H82.39V403.79H82.05V400H81.72V402.34H81.39V411.89H81.05V400.56H80.72V410.39H80.39V408.93H80.06V404.31H79.72V410.38H79.39V403.14H79.06V411.04H78.73V408.67H78.39V410.5H78.06V407.69H77.73V411.36H77.4V406.42H77.06V405.29H76.73V412.16H76.4V403.59H76.06V411.8H75.73V410.5H75.4V412.01H75.07V404.23H74.73V408.01H74.4V411.86H74.07V411.27H73.74V408.42H73.4V408.94H73.07V409.17H72.74V410.59H72.41V411.53H72.07V411.8H71.74V410.99H71.41V408.44H71.07V407.81H70.74V405.02H70.41V411.89H70.08V403.5H69.74V405.6H69.41V411.89H69.08V402.98H68.75V412.02H68.41V407.48H68.08V410.82H67.75V406.61H67.42V411.35H67.08V408.03H66.75V406.03H66.42V403.76H66.08V402.06H65.75V407.85H65.42V409.7H65.09V402.96H64.75V410.72H64.42V411.51H64.09V411.76H63.76V410.49H63.42V407.04H63.09V406.82H62.76V406.73H62.43V408.04H62.09V412.29H61.76V411.1H61.43V412.18H61.09V406.88H60.76V412.18H60.43V404.55H60.1V403.57H59.76V410.88H59.43V411H59.1V408.73H58.77V411.08H58.43V404.85H58.1V411.28H57.77V403.04H57.44V411.26H57.1V411.5H56.77V404.51H56.44V411.47H56.1V412.14H55.77V404.5H55.44V412.03H55.11V411.71H54.77V409.51H54.44V411.45H54.11V402.99H53.78V410.77H53.44V412.41H53.11V411.59H52.78V412.09H52.45V411.17H52.11V411.09H51.78V410.81H51.45V402.62H51.11V408.36H50.78V411.37H50.45V410.58H50.12V411.5H49.78V401.69H49.45V412.21H49.12V412.46H48.79V408.15H48.45V409.46H48.12V409.08H47.79V409.83H47.46V407.51H47.12V411.47H46.79V405.39H46.46V411.06H46.13V403.09H45.79V410.91H45.46V408.23H45.13V410.7H44.79V409.69H44.46V411.72H44.13V405.37H43.8V403.12H43.46V411.35H43.13V411.43H42.8V412.06H42.47V402.93H42.13V411.6H41.8V407.1H41.47V412.03H41.14V411.04H40.8V411.31H40.47V409.83H40.14V410.76H39.8V411.58H39.47V405.12H39.14V401.44H38.81V411.85H38.47V409.76H38.14V405.97H37.81V411.21H37.48V411.34H37.14V411.03H36.81V411.51H36.48V408.57H36.15V411.29H35.81V406.42H35.48V410.7H35.15V411.71H34.81V412.07H34.48V410.74H34.15V411.51H33.82V411.95H33.48V408.3H33.15V410.17H32.82V412.09H32.49V411.23H32.15V411.89H31.82V405.1H31.49V408.34H31.16V406.79H30.82V409.53H30.49V410.82H30.16V408.32H29.82V411.74H29.49V411.38H29.16V410.42H28.83V404.58H28.49V405.29H28.16V410.77H27.83V411.52H27.5V411.93H27.16V410.44H26.83V412.2H26.5V412.15H26.17V411.99H25.83V411.28H25.5z" fill="#0072bd" opacity="1"/>
<path d="M25.2 332.4L174.4 332.4" stroke="#8c8c8c" stroke-width="0.55" stroke-linecap="square" fill="none"/>
<path d="M174.4 332.4L174.4 427.3" stroke="#777" stroke-width="0.65" stroke-linecap="square" fill="none"/>
<path d="M25.2 427.3L174.4 427.3" stroke="#dcdcdc" stroke-width="0.5" stroke-linecap="square" fill="none"/>
<path d="M25.2 332.4L25.2 427.3" stroke="#bcbcbc" stroke-width="0.55" stroke-linecap="square" fill="none"/>
<path d="M25.2 427.3v-1.4M25.2 332.4v1.4M62.5 427.3v-1.4M62.5 332.4v1.4M99.8 427.3v-1.4M99.8 332.4v1.4M137.1 427.3v-1.4M137.1 332.4v1.4M174.4 427.3v-1.4M174.4 332.4v1.4M25.2 332.4h1.4M174.4 332.4h-1.4M25.2 351.38h1.4M174.4 351.38h-1.4M25.2 370.36h1.4M174.4 370.36h-1.4M25.2 389.34h1.4M174.4 389.34h-1.4M25.2 408.32h1.4M174.4 408.32h-1.4M25.2 427.3h1.4M174.4 427.3h-1.4" stroke="#999" stroke-width="0.4" fill="none"/>
<text x="25.2" y="433.3" font-size="4.4" text-anchor="middle" font-family='"Liberation Sans",sans-serif' fill="#444" stroke="#444" stroke-width="0.12">0</text>
<text x="62.5" y="433.3" font-size="4.4" text-anchor="middle" font-family='"Liberation Sans",sans-serif' fill="#444" stroke="#444" stroke-width="0.12">900</text>
<text x="99.8" y="433.3" font-size="4.4" text-anchor="middle" font-family='"Liberation Sans",sans-serif' fill="#444" stroke="#444" stroke-width="0.12">1800</text>
<text x="137.1" y="433.3" font-size="4.4" text-anchor="middle" font-family='"Liberation Sans",sans-serif' fill="#444" stroke="#444" stroke-width="0.12">2700</text>
<text x="174.4" y="433.3" font-size="4.4" text-anchor="middle" font-family='"Liberation Sans",sans-serif' fill="#444" stroke="#444" stroke-width="0.12">3600</text>
<text x="23.7" y="333.9" font-size="4.4" text-anchor="end" font-family='"Liberation Sans",sans-serif' fill="#444" stroke="#444" stroke-width="0.12">20</text>
<text x="23.7" y="352.88" font-size="4.4" text-anchor="end" font-family='"Liberation Sans",sans-serif' fill="#444" stroke="#444" stroke-width="0.12">15</text>
<text x="23.7" y="371.86" font-size="4.4" text-anchor="end" font-family='"Liberation Sans",sans-serif' fill="#444" stroke="#444" stroke-width="0.12">10</text>
<text x="23.7" y="390.84" font-size="4.4" text-anchor="end" font-family='"Liberation Sans",sans-serif' fill="#444" stroke="#444" stroke-width="0.12">5</text>
<text x="23.7" y="409.82" font-size="4.4" text-anchor="end" font-family='"Liberation Sans",sans-serif' fill="#444" stroke="#444" stroke-width="0.12">0</text>
<text x="23.7" y="428.8" font-size="4.4" text-anchor="end" font-family='"Liberation Sans",sans-serif' fill="#444" stroke="#444" stroke-width="0.12">-5</text>
<text x="26.2" y="331.3" font-size="4.4" font-family='"Liberation Sans",sans-serif' fill="#444">×10<tspan dy="-1.6" font-size="3">-4</tspan></text>
<text x="97" y="444.8" font-size="7.6" text-anchor="middle" font-family='"Liberation Serif",serif' fill="#111">Record length</text>
<text x="168.5" y="443.9" font-size="5.8" font-family='"Liberation Serif",serif' fill="#555">×10<tspan dy="-2.3" font-size="3.8">4</tspan></text>
<text x="98.3" y="462.2" font-size="12.7" text-anchor="middle" font-family='"Liberation Serif",serif' fill="#111" stroke="#111" stroke-width="0.22">(d)Over-range Oscillation</text>
<text x="13.9" y="377.3" font-size="7.95" text-anchor="middle" font-family='"Liberation Serif",serif' fill="#111" transform="rotate(-90 13.9 377.3)">Acceleration(m / s<tspan dy="-3" font-size="4.8">2</tspan><tspan dy="3">)</tspan></text>
<polyline points="218.7,418.1 228.4,412.9 238.7,406.7 249.1,402.6 261.2,398.1 269.1,392.2 280.2,387.7 292.3,382.5 304.4,374.9 316.4,370.4 325.1,364.2 335.4,359.1 347.5,352.5" fill="none" stroke="#2b8ad2" stroke-width="0.95" stroke-linejoin="round" opacity="1"/>
<path d="M218.5 343.6L348 343.6" stroke="#dddddd" stroke-width="0.5" stroke-linecap="square" fill="none"/>
<path d="M348 343.6L348 427.7" stroke="#cccccc" stroke-width="0.5" stroke-linecap="square" fill="none"/>
<path d="M218.5 427.7L348 427.7" stroke="#f0f0f0" stroke-width="0.5" stroke-linecap="square" fill="none"/>
<path d="M218.5 343.6L218.5 427.7" stroke="#e4e4e4" stroke-width="0.5" stroke-linecap="square" fill="none"/>
<path d="M218.5 427.7v-1.4M218.5 343.6v1.4M250.88 427.7v-1.4M250.88 343.6v1.4M283.25 427.7v-1.4M283.25 343.6v1.4M315.62 427.7v-1.4M315.62 343.6v1.4M348 427.7v-1.4M348 343.6v1.4M218.5 343.6h1.4M348 343.6h-1.4M218.5 357.62h1.4M348 357.62h-1.4M218.5 371.63h1.4M348 371.63h-1.4M218.5 385.65h1.4M348 385.65h-1.4M218.5 399.67h1.4M348 399.67h-1.4M218.5 413.68h1.4M348 413.68h-1.4M218.5 427.7h1.4M348 427.7h-1.4" stroke="#c0c0c0" stroke-width="0.4" fill="none"/>
<text x="218.5" y="433.3" font-size="4.2" text-anchor="middle" font-family='"Liberation Sans",sans-serif' fill="#444" stroke="#444" stroke-width="0.12">0</text>
<text x="250.88" y="433.3" font-size="4.2" text-anchor="middle" font-family='"Liberation Sans",sans-serif' fill="#444" stroke="#444" stroke-width="0.12">900</text>
<text x="283.25" y="433.3" font-size="4.2" text-anchor="middle" font-family='"Liberation Sans",sans-serif' fill="#444" stroke="#444" stroke-width="0.12">1800</text>
<text x="315.62" y="433.3" font-size="4.2" text-anchor="middle" font-family='"Liberation Sans",sans-serif' fill="#444" stroke="#444" stroke-width="0.12">2700</text>
<text x="348" y="433.3" font-size="4.2" text-anchor="middle" font-family='"Liberation Sans",sans-serif' fill="#444" stroke="#444" stroke-width="0.12">3600</text>
<text x="217" y="345.1" font-size="4.2" text-anchor="end" font-family='"Liberation Sans",sans-serif' fill="#444" stroke="#444" stroke-width="0.12">0.25</text>
<text x="217" y="359.12" font-size="4.2" text-anchor="end" font-family='"Liberation Sans",sans-serif' fill="#444" stroke="#444" stroke-width="0.12">0.24</text>
<text x="217" y="373.13" font-size="4.2" text-anchor="end" font-family='"Liberation Sans",sans-serif' fill="#444" stroke="#444" stroke-width="0.12">0.23</text>
<text x="217" y="387.15" font-size="4.2" text-anchor="end" font-family='"Liberation Sans",sans-serif' fill="#444" stroke="#444" stroke-width="0.12">0.22</text>
<text x="217" y="401.17" font-size="4.2" text-anchor="end" font-family='"Liberation Sans",sans-serif' fill="#444" stroke="#444" stroke-width="0.12">0.21</text>
<text x="217" y="415.18" font-size="4.2" text-anchor="end" font-family='"Liberation Sans",sans-serif' fill="#444" stroke="#444" stroke-width="0.12">0.2</text>
<text x="217" y="429.2" font-size="4.2" text-anchor="end" font-family='"Liberation Sans",sans-serif' fill="#444" stroke="#444" stroke-width="0.12">0.19</text>
<text x="283.7" y="444.9" font-size="7.6" text-anchor="middle" font-family='"Liberation Serif",serif' fill="#111">Record length</text>
<text x="342.3" y="444.4" font-size="5.8" font-family='"Liberation Serif",serif' fill="#555">×10<tspan dy="-2.3" font-size="3.8">4</tspan></text>
<text x="276" y="462.8" font-size="12.8" text-anchor="middle" font-family='"Liberation Serif",serif' fill="#111" stroke="#111" stroke-width="0.22">(e)Trend</text>
<text x="200.2" y="385.5" font-size="7.9" text-anchor="middle" font-family='"Liberation Serif",serif' fill="#111" transform="rotate(-90 200.2 385.5)">Acceleration(m / s<tspan dy="-3" font-size="4.7">2</tspan><tspan dy="3">)</tspan></text>
<polyline points="393.7,346.41 393.79,347.51 393.89,347 393.98,346.6 394.07,348.31 394.17,347.23 394.26,346.16 394.35,347.25 394.45,348.02 394.54,346.94 394.63,349.99 394.73,347.17 394.82,350.85 394.91,349.89 395.01,347.72 395.1,349.17 395.19,350.59 395.29,348.98 395.38,347.84 395.47,349.58 395.57,352.04 395.66,347.8 395.75,350.46 395.85,349.89 395.94,349.84 396.03,349.61 396.13,349.81 396.22,351.61 396.32,351.22 396.41,349.44 396.5,352.85 396.6,349.49 396.69,352.16 396.78,351.77 396.88,353.25 396.97,352.41 397.06,353.5 397.16,352.36 397.25,353.82 397.34,353.25 397.44,355.71 397.53,352.37 397.62,354.79 397.72,353.88 397.81,353.52 397.9,352.59 398,353.86 398.09,351.46 398.18,351.6 398.28,354.18 398.37,351.32 398.46,355.04 398.56,352.88 398.65,353.51 398.74,353.27 398.84,353.68 398.93,352.9 399.02,352.89 399.12,353.29 399.21,354.86 399.3,355.06 399.4,355.34 399.49,354.3 399.58,353.69 399.68,351.94 399.77,354.94 399.86,355.29 399.96,353.83 400.05,355.45 400.14,356.15 400.24,354.76 400.33,356.07 400.42,355.24 400.52,352.79 400.61,354.47 400.7,354.65 400.8,355.93 400.89,354.3 400.98,354.93 401.08,354.38 401.17,355.64 401.27,355.88 401.36,357.12 401.45,357.08 401.55,356.57 401.64,356.95 401.73,357.06 401.83,357.34 401.92,359.41 402.01,354.65 402.11,357.82 402.2,358.71 402.29,360.01 402.39,357.5 402.48,359.58 402.57,360.51 402.67,359.15 402.76,357.25 402.85,358.99 402.95,357.75 403.04,359.87 403.13,357.83 403.23,361.02 403.32,358.87 403.41,357.59 403.51,357.87 403.6,357.03 403.69,358.79 403.79,360.07 403.88,357.84 403.97,359.16 404.07,357.2 404.16,359.14 404.25,362.01 404.35,357.76 404.44,361.43 404.53,361.74 404.63,358.3 404.72,359.24 404.81,360.19 404.91,363 405,361.63 405.09,362.5 405.19,364.13 405.28,363.9 405.37,364.41 405.47,364.1 405.56,366.28 405.65,364.28 405.75,367.72 405.84,365.58 405.93,365.38 406.03,367.56 406.12,367.69 406.22,365.02 406.31,368.15 406.4,366.56 406.5,367.58 406.59,369.96 406.68,368.23 406.78,370.09 406.87,369.5 406.96,372.73 407.06,370.52 407.15,369.51 407.24,369.93 407.34,370.51 407.43,372.14 407.52,372.31 407.62,373.86 407.71,373.19 407.8,373.47 407.9,374.19 407.99,374.16 408.08,375.22 408.18,376.37 408.27,376.91 408.36,375.78 408.46,374.79 408.55,376.35 408.64,377.93 408.74,374.68 408.83,377.41 408.92,378.78 409.02,377.73 409.11,377.25 409.2,380.8 409.3,380.3 409.39,378.2 409.48,380.13 409.58,380.06 409.67,376.98 409.76,381.69 409.86,377.13 409.95,377.92 410.04,376.84 410.14,378.26 410.23,376.48 410.32,378.07 410.42,379.4 410.51,378.32 410.6,377.74 410.7,380.01 410.79,376.97 410.88,379.32 410.98,377.74 411.07,378.4 411.16,378.19 411.26,378.32 411.35,378.11 411.45,377.21 411.54,377.49 411.63,378.76 411.73,378.04 411.82,376.64 411.91,377.13 412.01,377.06 412.1,377.78 412.19,377.98 412.29,377.79 412.38,376.78 412.47,377.53 412.57,375.72 412.66,373.74 412.75,377.19 412.85,375.11 412.94,375.91 413.03,375.67 413.13,378.11 413.22,375.96 413.31,377.96 413.41,377.14 413.5,376.35 413.59,376.07 413.69,378.75 413.78,378.8 413.87,379.43 413.97,380.89 414.06,379.08 414.15,379.24 414.25,378.87 414.34,379.13 414.43,378.53 414.53,377.82 414.62,381.4 414.71,376.56 414.81,379.17 414.9,379.38 414.99,378.98 415.09,377.56 415.18,378.49 415.27,378.13 415.37,377.33 415.46,378.59 415.55,378.13 415.65,378.01 415.74,379.62 415.83,377.51 415.93,379.45 416.02,378.21 416.11,379.57 416.21,379.19 416.3,379.47 416.4,378.02 416.49,378.34 416.58,378.31 416.68,379.66 416.77,380.44 416.86,380.92 416.96,378.99 417.05,379.77 417.14,377.69 417.24,376.99 417.33,378.73 417.42,379.03 417.52,377.97 417.61,377.74 417.7,380.67 417.8,379.05 417.89,378 417.98,383.04 418.08,380.41 418.17,379.8 418.26,381.03 418.36,379.22 418.45,382.13 418.54,378.22 418.64,378.49 418.73,379.93 418.82,379.13 418.92,381.83 419.01,378.06 419.1,379.13 419.2,380.32 419.29,380.71 419.38,381.24 419.48,380.54 419.57,382.98 419.66,379.76 419.76,380.69 419.85,381.66 419.94,380.32 420.04,380.48 420.13,380.43 420.22,380.37 420.32,379.92 420.41,380.8 420.5,379.72 420.6,382.29 420.69,379.99 420.78,384.7 420.88,384.4 420.97,383.81 421.06,382.32 421.16,382 421.25,384.41 421.35,383.27 421.44,383.89 421.53,382.45 421.63,384.83 421.72,382.66 421.81,383.94 421.91,381.8 422,383.24 422.09,384.71 422.19,383.56 422.28,383.6 422.37,385.17 422.47,384.13 422.56,385.8 422.65,381.28 422.75,385.03 422.84,384.98 422.93,382.46 423.03,382.8 423.12,385.54 423.21,383.16 423.31,383.71 423.4,385.27 423.49,384.12 423.59,385.15 423.68,383.49 423.77,384.96 423.87,385.95 423.96,385.02 424.05,381.9 424.15,385.46 424.24,384.74 424.33,383.56 424.43,386.43 424.52,382.55 424.61,386.97 424.71,383.77 424.8,386.43 424.89,384.33 424.99,382.65 425.08,384.34 425.17,384.55 425.27,384.72 425.36,385.29 425.45,382.77 425.55,384.41 425.64,384.63 425.73,383.3 425.83,382.46 425.92,382.74 426.01,385.17 426.11,385.54 426.2,383.82 426.3,383.5 426.39,387.01 426.48,383.84 426.58,386.28 426.67,385.39 426.76,384.51 426.86,387.16 426.95,387.07 427.04,389.41 427.14,390.65 427.23,387.67 427.32,389.26 427.42,389.36 427.51,387.49 427.6,387.14 427.7,390.3 427.79,387.92 427.88,388.42 427.98,388.17 428.07,388.45 428.16,387.94 428.26,389.7 428.35,390.41 428.44,388.4 428.54,387.13 428.63,388.89 428.72,386.97 428.82,388 428.91,390.31 429,391.65 429.1,389.22 429.19,387.41 429.28,389.69 429.38,385.91 429.47,387.82 429.56,390.57 429.66,389.58 429.75,386.99 429.84,386.7 429.94,389.89 430.03,388.82 430.12,388.2 430.22,389.51 430.31,388.34 430.4,386.72 430.5,390.18 430.59,388.43 430.68,388.04 430.78,387.69 430.87,389.72 430.96,388.48 431.06,390.43 431.15,389.48 431.25,391.32 431.34,389.66 431.43,389.5 431.53,388.03 431.62,389.27 431.71,391.7 431.81,394.77 431.9,389.58 431.99,390.01 432.09,391.89 432.18,392.23 432.27,390.87 432.37,391.78 432.46,389.65 432.55,391.25 432.65,392.71 432.74,393.59 432.83,391.32 432.93,391.17 433.02,392.03 433.11,392.81 433.21,392.01 433.3,390.44 433.39,391.79 433.49,392.52 433.58,390.55 433.67,389.97 433.77,392.46 433.86,392.48 433.95,393.42 434.05,392.53 434.14,391.81 434.23,392.26 434.33,391.72 434.42,392.02 434.51,392.69 434.61,392.99 434.7,395.17 434.79,392.45 434.89,393.87 434.98,393.13 435.07,395.65 435.17,394.06 435.26,393.2 435.35,394.61 435.45,393.61 435.54,392.87 435.63,395.31 435.73,394.22 435.82,395.41 435.91,394.64 436.01,394.1 436.1,393.26 436.19,391.83 436.29,394.15 436.38,393.44 436.48,394.28 436.57,393.51 436.66,392.75 436.76,392.45 436.85,394.65 436.94,395.48 437.04,393.6 437.13,394.61 437.22,395.85 437.32,393.18 437.41,393.91 437.5,393.08 437.6,396.08 437.69,395.09 437.78,394.34 437.88,393 437.97,394.98 438.06,396.58 438.16,395.12 438.25,395.11 438.34,396.58 438.44,394.39 438.53,396.13 438.62,396.96 438.72,395.27 438.81,395.17 438.9,396.47 439,396.01 439.09,395.8 439.18,396.31 439.28,396.3 439.37,394.83 439.46,395.12 439.56,396.47 439.65,397.27 439.74,397.52 439.84,394.75 439.93,397.12 440.02,396.87 440.12,396.08 440.21,396.91 440.3,397.51 440.4,398.89 440.49,395.59 440.58,397.87 440.68,397.17 440.77,397.31 440.86,399.22 440.96,399.04 441.05,396.99 441.14,398.12 441.24,398.97 441.33,397.09 441.43,400.07 441.52,399.06 441.61,399.51 441.71,399.88 441.8,401.86 441.89,399.82 441.99,399.49 442.08,402.24 442.17,399.62 442.27,399.75 442.36,398.84 442.45,402.05 442.55,401.13 442.64,401.35 442.73,400.95 442.83,400.55 442.92,399.73 443.01,399.71 443.11,401.19 443.2,400.78 443.29,402.62 443.39,399.64 443.48,399.96 443.57,399.27 443.67,402.22 443.76,398.96 443.85,401.62 443.95,402.73 444.04,401.06 444.13,402.42 444.23,399.18 444.32,401.61 444.41,400.32 444.51,402.87 444.6,402.95 444.69,402.28 444.79,404.68 444.88,404.24 444.97,403.43 445.07,403.73 445.16,402.58 445.25,404.17 445.35,407.02 445.44,403.53 445.53,404.93 445.63,403.74 445.72,405.41 445.81,404.96 445.91,404.13 446,402.2 446.09,403.75 446.19,405.85 446.28,404.05 446.38,405.14 446.47,403.95 446.56,402.41 446.66,405.42 446.75,405.47 446.84,404.53 446.94,404.97 447.03,405.96 447.12,405.05 447.22,406.38 447.31,405.88 447.4,403.4 447.5,406.31 447.59,405.93 447.68,405.76 447.78,407.36 447.87,406.17 447.96,407.3 448.06,407.84 448.15,406.52 448.24,404.29 448.34,405.15 448.43,407.04 448.52,405.45 448.62,404.62 448.71,405.36 448.8,405.95 448.9,405.51 448.99,405.82 449.08,403.84 449.18,404.35 449.27,404.21 449.36,404.32 449.46,401.59 449.55,403.72 449.64,402.18 449.74,405.39 449.83,405.42 449.92,405.41 450.02,404.16 450.11,402.39 450.2,404.01 450.3,402.45 450.39,403.33 450.48,401.33 450.58,401.6 450.67,402.77 450.76,404.26 450.86,401.92 450.95,404.61 451.04,405.11 451.14,399.99 451.23,401.42 451.33,400.15 451.42,401.04 451.51,400.42 451.61,400.8 451.7,401.88 451.79,401.66 451.89,400.62 451.98,400.11 452.07,400.05 452.17,399.87 452.26,400.22 452.35,399.33 452.45,399.74 452.54,397.31 452.63,399.71 452.73,400.69 452.82,398.63 452.91,396.62 453.01,400.01 453.1,397.9 453.19,394.58 453.29,397.98 453.38,398.96 453.47,398.66 453.57,399.69 453.66,398.89 453.75,398.24 453.85,395.62 453.94,396.65 454.03,398.22 454.13,398.75 454.22,396.53 454.31,396.93 454.41,398.16 454.5,395.1 454.59,394.94 454.69,396.95 454.78,397.43 454.87,396.42 454.97,394.06 455.06,396.81 455.15,395.03 455.25,397.37 455.34,396.32 455.43,396.85 455.53,397.47 455.62,396.17 455.71,397.99 455.81,398.65 455.9,397.75 455.99,399.06 456.09,396.78 456.18,398.84 456.28,398.19 456.37,396.78 456.46,398.05 456.56,397.64 456.65,397.73 456.74,398.44 456.84,399.56 456.93,397.78 457.02,398.24 457.12,396.19 457.21,398.06 457.3,399.27 457.4,398.77 457.49,398.27 457.58,396.95 457.68,396.48 457.77,397.69 457.86,396.27 457.96,396.47 458.05,399.15 458.14,396.84 458.24,400.18 458.33,396.18 458.42,398.47 458.52,396.47 458.61,398.13 458.7,396.61 458.8,397.94 458.89,397.68 458.98,397.3 459.08,398.48 459.17,399.7 459.26,397.31 459.36,399.47 459.45,398.81 459.54,398.99 459.64,402.08 459.73,397 459.82,399.18 459.92,398.11 460.01,400.29 460.1,400.73 460.2,406.06 460.29,402.1 460.38,404.23 460.48,403.94 460.57,401.94 460.66,403.2 460.76,404.8 460.85,403.07 460.94,403.24 461.04,403.72 461.13,401.36 461.23,402.34 461.32,403.89 461.41,404.26 461.51,402.51 461.6,403.3 461.69,403.61 461.79,403.63 461.88,404.73 461.97,404.06 462.07,404.19 462.16,402.28 462.25,402.79 462.35,404.55 462.44,402.23 462.53,404.59 462.63,403.49 462.72,403.36 462.81,405.23 462.91,403.64 463,403.47 463.09,403.79 463.19,404.87 463.28,408.36 463.37,402.49 463.47,405.26 463.56,405.15 463.65,406.79 463.75,405.32 463.84,402.87 463.93,407.75 464.03,404.91 464.12,406.36 464.21,404.9 464.31,405.4 464.4,406.28 464.49,408.09 464.59,408.19 464.68,406.53 464.77,408.02 464.87,407.06 464.96,407.79 465.05,407.96 465.15,408.67 465.24,407.26 465.33,407.98 465.43,408.54 465.52,408.51 465.61,407.53 465.71,410.68 465.8,407.96 465.89,409.47 465.99,408.79 466.08,410.05 466.17,405.82 466.27,411.07 466.36,408.26 466.46,406.99 466.55,408.68 466.64,411.32 466.74,409.15 466.83,406.99 466.92,407.96 467.02,410.31 467.11,407.03 467.2,408.68 467.3,408.66 467.39,411.84 467.48,408.91 467.58,411.02 467.67,408.67 467.76,408.62 467.86,410.96 467.95,410.58 468.04,407.76 468.14,410.8 468.23,410.9 468.32,409.45 468.42,410.59 468.51,410.76 468.6,409.93 468.7,409.91 468.79,409.91 468.88,410.52 468.98,409.31 469.07,411.01 469.16,409.32 469.26,411.37 469.35,411.28 469.44,410.21 469.54,412.59 469.63,413.92 469.72,413.15 469.82,409.8 469.91,413.06 470,411.74 470.1,411.39 470.19,410.7 470.28,411.42 470.38,413.14 470.47,412.08 470.56,410.88 470.66,410.55 470.75,410.85 470.84,412.24 470.94,413.99 471.03,410.52 471.12,411.99 471.22,411.68 471.31,411.38 471.41,412.97 471.5,413.32 471.59,411.04 471.69,411.68 471.78,414.61 471.87,413.68 471.97,414.1 472.06,412.98 472.15,413.18 472.25,414.28 472.34,413.15 472.43,412.44 472.53,413.87 472.62,415.05 472.71,412.7 472.81,415.34 472.9,414.96 472.99,413.07 473.09,414.21 473.18,414.2 473.27,415.09 473.37,415.18 473.46,412.77 473.55,412.74 473.65,415.71 473.74,414.61 473.83,415.01 473.93,414.94 474.02,416.45 474.11,413.09 474.21,415.96 474.3,413.63 474.39,415.57 474.49,416.36 474.58,412.99 474.67,415.21 474.77,414.4 474.86,414.41 474.95,414.84 475.05,413.52 475.14,413.65 475.23,415.68 475.33,415.94 475.42,414.22 475.51,413.15 475.61,417.83 475.7,416.36 475.79,415.47 475.89,413.78 475.98,414.44 476.07,415.58 476.17,414.22 476.26,417.51 476.36,415.82 476.45,416.26 476.54,414.63 476.64,414.91 476.73,415.18 476.82,416.61 476.92,416.07 477.01,416.17 477.1,417.03 477.2,417.04 477.29,418.68 477.38,416.68 477.48,415.76 477.57,417.07 477.66,418.97 477.76,416.57 477.85,417.39 477.94,416.97 478.04,417.99 478.13,417.89 478.22,416.65 478.32,417.45 478.41,418.97 478.5,419.21 478.6,419 478.69,418.92 478.78,417.45 478.88,417.41 478.97,418.99 479.06,416.41 479.16,417.77 479.25,415.56 479.34,417.37 479.44,416.97 479.53,416.35 479.62,418.54 479.72,416.92 479.81,417.35 479.9,417.43 480,416.79 480.09,419.39 480.18,416.99 480.28,417.78 480.37,415.89 480.46,416.86 480.56,416.99 480.65,416.96 480.74,416.57 480.84,417.41 480.93,419.1 481.02,416.97 481.12,417.09 481.21,416.94 481.31,420.69 481.4,419.72 481.49,418.44 481.59,418.65 481.68,416.94 481.77,417.64 481.87,418.11 481.96,418.02 482.05,416.85 482.15,416.97 482.24,418.58 482.33,418.34 482.43,415.23 482.52,417.79 482.61,419.1 482.71,416.6 482.8,417.55 482.89,415.33 482.99,418 483.08,415.47 483.17,415.16 483.27,416.17 483.36,419.32 483.45,415.53 483.55,414.59 483.64,416.59 483.73,416.24 483.83,417.92 483.92,414.27 484.01,413.81 484.11,415.31 484.2,416.15 484.29,416.11 484.39,416.98 484.48,413.81 484.57,414.61 484.67,415.45 484.76,416.62 484.85,416.16 484.95,415.05 485.04,414.31 485.13,416.64 485.23,416.72 485.32,418.88 485.41,415.33 485.51,417.54 485.6,414.06 485.69,414.87 485.79,414.71 485.88,414.96 485.97,414.45 486.07,414.86 486.16,415.45 486.26,414.8 486.35,415.96 486.44,414.85 486.54,414.74 486.63,416.35 486.72,414.73 486.82,414.33 486.91,413.92 487,413.82 487.1,414.24 487.19,412.35 487.28,414.54 487.38,414.86 487.47,414.16 487.56,412.16 487.66,410.82 487.75,412.25 487.84,412.98 487.94,413.82 488.03,412.59 488.12,412.45 488.22,414.7 488.31,412.02 488.4,414.16 488.5,413.97 488.59,411.25 488.68,413.23 488.78,412.18 488.87,411.62 488.96,410.44 489.06,410.7 489.15,413.05 489.24,411.99 489.34,412.71 489.43,411 489.52,411.83 489.62,411.82 489.71,410.2 489.8,409.99 489.9,412.5 489.99,412.08 490.08,410.7 490.18,411.66 490.27,412.55 490.36,413.93 490.46,410.55 490.55,412.34 490.64,414.13 490.74,411.56 490.83,413.23 490.92,408.21 491.02,413.1 491.11,411.26 491.21,408.92 491.3,412.13 491.39,412.6 491.49,412.98 491.58,413.15 491.67,411.83 491.77,411.14 491.86,411.67 491.95,412.38 492.05,413.11 492.14,412.2 492.23,413.04 492.33,414.24 492.42,413.75 492.51,416.34 492.61,416.34 492.7,412.18 492.79,412.78 492.89,411.76 492.98,411.83 493.07,413.81 493.17,411.82 493.26,411.64 493.35,412.48 493.45,413.68 493.54,412.15 493.63,412.04 493.73,413.5 493.82,412.84 493.91,412.67 494.01,413.04 494.1,410.4 494.19,411.67 494.29,410.4 494.38,412.2 494.47,411.71 494.57,409.19 494.66,411.89 494.75,408.57 494.85,411.21 494.94,409.79 495.03,408.24 495.13,407.7 495.22,408.68 495.31,409.16 495.41,408.45 495.5,410.14 495.59,407.86 495.69,409.71 495.78,409.85 495.87,407.68 495.97,410.5 496.06,408.7 496.15,407.31 496.25,409.76 496.34,410.37 496.44,411.9 496.53,410.13 496.62,412.43 496.72,412.29 496.81,411.76 496.9,411.94 497,410.63 497.09,409.41 497.18,410.79 497.28,411.08 497.37,410.08 497.46,409.38 497.56,407.65 497.65,410.31 497.74,409.83 497.84,407.92 497.93,409.77 498.02,410.67 498.12,409.77 498.21,411 498.3,411.09 498.4,408.47 498.49,410.04 498.58,411.14 498.68,411.8 498.77,412.54 498.86,408.56 498.96,410.97 499.05,412 499.14,412.55 499.24,413.04 499.33,409.72 499.42,410.34 499.52,409.42 499.61,411.65 499.7,408.92 499.8,411.94 499.89,411.55 499.98,410.92 500.08,407.56 500.17,409.32 500.26,411.01 500.36,408.29 500.45,409.72 500.54,409.87 500.64,411.08 500.73,410.31 500.82,410.28 500.92,409.38 501.01,409.91 501.1,409.71 501.2,410.76 501.29,409.62 501.39,411.1 501.48,407.71 501.57,411.27 501.67,409.59 501.76,411.22 501.85,409.95 501.95,410.92 502.04,411.74 502.13,409.23 502.23,410.04 502.32,409.75 502.41,410.24 502.51,408.01 502.6,409.82 502.69,409.75 502.79,409.11 502.88,409.87 502.97,408.22 503.07,411.87 503.16,410.71 503.25,412.5 503.35,409.12 503.44,408.77 503.53,410.58 503.63,408.19 503.72,410.55 503.81,409.42 503.91,409.89 504,410.63 504.09,410.39 504.19,412.64 504.28,411.1 504.37,408.69 504.47,411.47 504.56,408.58 504.65,410.32 504.75,408.64 504.84,409.13 504.93,411.75 505.03,409.41 505.12,409.28 505.21,409.35 505.31,409.64 505.4,411.78 505.49,408.52 505.59,408.43 505.68,410.65 505.77,407.95 505.87,409.45 505.96,411.21 506.05,409.69 506.15,408.97 506.24,408.56 506.34,408.18 506.43,408.46 506.52,409.23 506.62,410.48 506.71,410.01 506.8,408.01 506.9,407.71 506.99,409.37 507.08,406.17 507.18,407.77 507.27,407.81 507.36,406.74 507.46,406.79 507.55,408.35 507.64,405.77 507.74,406.59 507.83,406.82 507.92,407.62 508.02,405.73 508.11,408.7 508.2,406.92 508.3,406.93 508.39,406.74 508.48,406.3 508.58,405.87 508.67,408.43 508.76,407.21 508.86,406.77 508.95,408.07 509.04,405.91 509.14,407.51 509.23,406.7 509.32,405.47 509.42,407.28 509.51,404.27 509.6,406.68 509.7,404.56 509.79,405.93 509.88,406.9 509.98,405.67 510.07,404.01 510.16,404.51 510.26,403.88 510.35,402.68 510.44,402.55 510.54,403.76 510.63,404.27 510.72,401.43 510.82,403.51 510.91,404.22 511,403.73 511.1,402.36 511.19,404.86 511.29,402.09 511.38,404.38 511.47,405.55 511.57,401.06 511.66,403.89 511.75,403.95 511.85,403.84 511.94,402.54 512.03,403.01 512.13,401.58 512.22,403.36 512.31,403.76 512.41,402.19 512.5,401.77 512.59,402.23 512.69,402.71 512.78,402.7 512.87,402.4 512.97,402.52 513.06,400.73 513.15,398.89 513.25,402.88 513.34,403.76 513.43,400.16 513.53,400.97 513.62,402.04 513.71,402.72 513.81,402.23 513.9,402.89 513.99,401.14 514.09,401.6 514.18,401.49 514.27,400.34 514.37,402.23 514.46,401.44 514.55,401.88 514.65,400.21 514.74,401.95 514.83,399.4 514.93,401.18 515.02,397.5 515.11,399.47 515.21,401.61 515.3,400.16 515.39,400.93 515.49,398.73 515.58,402.6 515.67,401.42 515.77,400.52 515.86,400.81 515.95,400.44 516.05,401.52 516.14,399.8 516.24,397.48 516.33,398.72 516.42,400.35 516.52,399.22 516.61,397.75 516.7,398.76 516.8,397.9 516.89,398.25 516.98,395.31 517.08,396.08 517.17,397.96 517.26,396.84 517.36,397.51 517.45,399.44 517.54,396.63 517.64,397.27 517.73,396.26 517.82,396.15 517.92,396.79 518.01,395.07 518.1,394.24 518.2,398.45 518.29,396.62 518.38,397.98 518.48,396.62 518.57,396.51 518.66,397.01 518.76,396.93 518.85,394.45 518.94,397.25 519.04,394.45 519.13,395.75 519.22,398.48 519.32,395.32 519.41,397.12 519.5,394.52 519.6,395.6 519.69,394.91 519.78,395.36 519.88,393.81 519.97,393.74 520.06,395.27 520.16,392.96 520.25,393.84 520.34,395.65 520.44,394.12 520.53,393.79 520.62,393.53 520.72,395.06 520.81,394.44 520.9,394.97 521,394.38 521.09,396.69 521.18,393.72 521.28,391.68 521.37,394.03 521.47,393.71 521.56,393.72 521.65,391.39 521.75,394.54 521.84,392.94 521.93,392.75 522.03,390.69 522.12,393.02 522.21,392.27 522.31,393.93 522.4,391.71 522.49,390.64 522.59,392.24 522.68,390.9 522.77,392.45 522.87,390.56 522.96,391.66 523.05,391.47 523.15,391.64 523.24,390.99 523.33,390.56 523.43,391.41 523.52,390.69 523.61,391.5 523.71,390.91 523.8,388.43 523.89,391 523.99,392.69 524.08,391.29 524.17,391.57 524.27,391.31 524.36,390.11 524.45,388.98 524.55,391.5 524.64,391.72 524.73,391 524.83,390.57 524.92,390.28 525.01,389.52 525.11,389.63 525.2,389.06 525.29,389.19 525.39,387.39 525.48,387.52 525.57,388.72 525.67,387.37 525.76,384.6 525.85,387.42 525.95,384.26 526.04,389.23 526.13,387.84 526.23,387.83 526.32,386.26 526.42,385.75 526.51,386.88 526.6,387.18 526.7,386.26 526.79,387.4 526.88,388.06 526.98,387.98 527.07,386.03 527.16,384.71 527.26,387.34 527.35,386.38 527.44,387.49 527.54,388.71 527.63,388.49 527.72,386.65 527.82,387.42 527.91,387.84 528,385.71 528.1,385.76 528.19,386.24 528.28,384.96 528.38,384.18 528.47,383.67 528.56,384.36 528.66,383.51 528.75,385.12 528.84,383.68 528.94,385.74 529.03,385.34 529.12,382.32 529.22,385 529.31,383.14 529.4,385.17 529.5,384.05 529.59,383.29 529.68,384.06 529.78,382.5 529.87,383.46 529.96,383.41 530.06,382.66 530.15,383.18 530.24,381.41 530.34,383.15 530.43,380.87 530.52,382.78 530.62,382.32 530.71,382.32 530.8,380.54 530.9,384.54 530.99,380.37 531.08,380.55 531.18,379.22 531.27,381.6 531.37,379.12 531.46,380.64 531.55,378.11 531.65,379.38 531.74,378.35 531.83,379.68 531.93,378.01 532.02,377.11 532.11,378.45 532.21,376.28 532.3,376.34 532.39,378.16 532.49,374.75 532.58,377.58 532.67,375.91 532.77,375.01 532.86,376.09 532.95,376.25 533.05,374.52 533.14,374.71 533.23,375.72 533.33,375.8 533.42,374.97 533.51,374.26 533.61,374.18 533.7,374.73" fill="none" stroke="#0072bd" stroke-width="0.85" stroke-linejoin="round" opacity="1"/>
<path d="M393.4 337.3L534 337.3" stroke="#f0f0f0" stroke-width="0.5" stroke-linecap="square" fill="none"/>
<path d="M534 337.3L534 427.7" stroke="#ebebeb" stroke-width="0.5" stroke-linecap="square" fill="none"/>
<path d="M393.4 427.7L534 427.7" stroke="#a0a0a0" stroke-width="0.6" stroke-linecap="square" fill="none"/>
<path d="M393.4 337.3L393.4 427.7" stroke="#dcdcdc" stroke-width="0.5" stroke-linecap="square" fill="none"/>
<path d="M393.4 427.7v-1.4M393.4 337.3v1.4M428.55 427.7v-1.4M428.55 337.3v1.4M463.7 427.7v-1.4M463.7 337.3v1.4M498.85 427.7v-1.4M498.85 337.3v1.4M534 427.7v-1.4M534 337.3v1.4M393.4 337.3h1.4M534 337.3h-1.4M393.4 352.37h1.4M534 352.37h-1.4M393.4 367.43h1.4M534 367.43h-1.4M393.4 382.5h1.4M534 382.5h-1.4M393.4 397.57h1.4M534 397.57h-1.4M393.4 412.63h1.4M534 412.63h-1.4M393.4 427.7h1.4M534 427.7h-1.4" stroke="#b0b0b0" stroke-width="0.4" fill="none"/>
<text x="393.4" y="434" font-size="4.6" text-anchor="middle" font-family='"Liberation Sans",sans-serif' fill="#444" stroke="#444" stroke-width="0.12">0</text>
<text x="428.55" y="434" font-size="4.6" text-anchor="middle" font-family='"Liberation Sans",sans-serif' fill="#444" stroke="#444" stroke-width="0.12">900</text>
<text x="463.7" y="434" font-size="4.6" text-anchor="middle" font-family='"Liberation Sans",sans-serif' fill="#444" stroke="#444" stroke-width="0.12">1800</text>
<text x="498.85" y="434" font-size="4.6" text-anchor="middle" font-family='"Liberation Sans",sans-serif' fill="#444" stroke="#444" stroke-width="0.12">2700</text>
<text x="534" y="434" font-size="4.6" text-anchor="middle" font-family='"Liberation Sans",sans-serif' fill="#444" stroke="#444" stroke-width="0.12">3600</text>
<text x="391.9" y="338.9" font-size="4.6" text-anchor="end" font-family='"Liberation Sans",sans-serif' fill="#444" stroke="#444" stroke-width="0.12">0.056</text>
<text x="391.9" y="353.97" font-size="4.6" text-anchor="end" font-family='"Liberation Sans",sans-serif' fill="#444" stroke="#444" stroke-width="0.12">0.055</text>
<text x="391.9" y="369.03" font-size="4.6" text-anchor="end" font-family='"Liberation Sans",sans-serif' fill="#444" stroke="#444" stroke-width="0.12">0.054</text>
<text x="391.9" y="384.1" font-size="4.6" text-anchor="end" font-family='"Liberation Sans",sans-serif' fill="#444" stroke="#444" stroke-width="0.12">0.053</text>
<text x="391.9" y="399.17" font-size="4.6" text-anchor="end" font-family='"Liberation Sans",sans-serif' fill="#444" stroke="#444" stroke-width="0.12">0.052</text>
<text x="391.9" y="414.23" font-size="4.6" text-anchor="end" font-family='"Liberation Sans",sans-serif' fill="#444" stroke="#444" stroke-width="0.12">0.051</text>
<text x="391.9" y="429.3" font-size="4.6" text-anchor="end" font-family='"Liberation Sans",sans-serif' fill="#444" stroke="#444" stroke-width="0.12">0.05</text>
<text x="465.5" y="447.8" font-size="7.6" text-anchor="middle" font-family='"Liberation Serif",serif' fill="#111">Record length</text>
<text x="529" y="446.8" font-size="5.8" font-family='"Liberation Serif",serif' fill="#555">×10<tspan dy="-2.3" font-size="3.8">4</tspan></text>
<text x="465.5" y="462.4" font-size="12.8" text-anchor="middle" font-family='"Liberation Serif",serif' fill="#111" stroke="#111" stroke-width="0.22">(f)Drift</text>
<text x="374.2" y="381" font-size="7.9" text-anchor="middle" font-family='"Liberation Serif",serif' fill="#111" transform="rotate(-90 374.2 381)">Acceleration(m / s<tspan dy="-3" font-size="4.7">2</tspan><tspan dy="3">)</tspan></text>
</svg></body></html>
